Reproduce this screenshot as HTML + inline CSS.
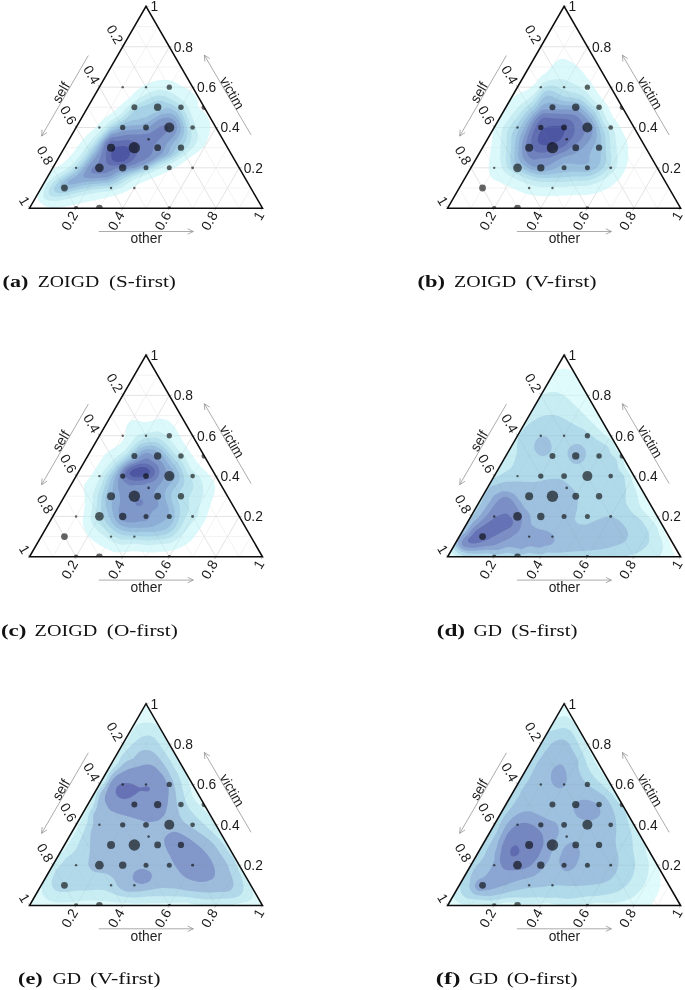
<!DOCTYPE html>
<html lang="en"><head><meta charset="utf-8"><title>Ternary density plots</title>
<style>
html,body{margin:0;padding:0;background:#fff}
body{width:685px;height:990px;overflow:hidden;position:relative}
svg{display:block;position:absolute;left:0;top:0}
.tl text,.at text{font-family:"Liberation Sans",Arial,sans-serif;font-size:13.8px;fill:#1a1a1a}
.at text{font-size:13.8px;fill:#222}
.ar path{stroke:#909090;stroke-width:0.75;fill:none}
circle{fill:#000;fill-opacity:0.6}
.cap{font-family:"Liberation Serif","Times New Roman",serif;font-size:17.3px;fill:#111}
.cap.b{font-weight:bold}
</style></head><body>
<svg width="685" height="990" viewBox="0 0 685 990">
<g transform="translate(29.5,208.2)">
<clipPath id="c0"><path d="M0,0L233,0L116.5,-201.78 Z"/></clipPath>
<path d="M11.65,-20.18L221.35,-20.18M23.3,0L128.15,-181.61M209.7,0L104.85,-181.61M34.95,-60.54L198.05,-60.54M69.9,0L151.45,-141.25M163.1,0L81.55,-141.25M58.25,-100.89L174.75,-100.89M116.5,0L174.75,-100.89M116.5,0L58.25,-100.89M81.55,-141.25L151.45,-141.25M163.1,0L198.05,-60.54M69.9,0L34.95,-60.54M104.85,-181.61L128.15,-181.61M209.7,0L221.35,-20.18M23.3,0L11.65,-20.18" stroke="#f1f1f1" stroke-width="0.9" fill="none"/>
<path d="M23.3,-40.36L209.7,-40.36M46.6,0L139.8,-161.43M186.4,0L93.2,-161.43M46.6,-80.71L186.4,-80.71M93.2,0L163.1,-121.07M139.8,0L69.9,-121.07M69.9,-121.07L163.1,-121.07M139.8,0L186.4,-80.71M93.2,0L46.6,-80.71M93.2,-161.43L139.8,-161.43M186.4,0L209.7,-40.36M46.6,0L23.3,-40.36" stroke="#e3e3e3" stroke-width="1" fill="none"/>
<g clip-path="url(#c0)">
<clipPath id="dk0"><path clip-rule="evenodd" d="M31,-0.8L27,-0.1L24,0L21,-0.2L19,-0.7L16,-1.9L13,-3.7L11,-5.4L9,-7.7L8.5,-8.8L8.2,-9.8L7.7,-15.8L7.7,-18.8L8.2,-21.8L8.8,-23.8L9.6,-25.8L11.3,-28.8L14,-32.1L18,-35.6L22,-38.3L31.8,-43.8L35.4,-46.8L39.5,-50.8L43,-54.7L52.6,-67.8L55.1,-70.8L57.9,-73.8L65,-79.8L70.6,-85.8L74,-89.1L77,-91.6L83,-95.8L87.8,-99.8L94,-105.5L99,-109.5L105,-115.8L107,-117.6L110,-119.9L114,-122.4L118,-124.5L122,-126.1L126,-127.3L130,-128.1L134,-128.4L137,-128.3L140,-127.9L142,-127.4L147,-125.2L152,-122.3L156,-120.4L159,-118.7L162,-116.5L164.8,-113.8L166.4,-111.8L167.9,-108.8L168.3,-106.8L168.5,-102.8L169.2,-100.8L171,-98.7L175.6,-94.8L177.2,-92.8L178.4,-90.8L179.3,-88.8L180.2,-85.8L180.6,-83.8L180.8,-80.8L180.4,-76.8L179.4,-72.8L177.7,-67.8L176.4,-64.8L175.2,-62.8L173.6,-60.8L171.4,-58.8L168,-56L164,-53.2L160,-50.1L156.5,-47.8L152,-44.4L147,-41.3L131,-33.3L108.1,-23.8L99,-18L95,-16L87,-13L76,-10.2L59.5,-6.8L40,-2.4L31,-0.8Z"/></clipPath>
<path fill="#dbf8fa" fill-rule="evenodd" d="M31,-0.8L27,-0.1L24,0L21,-0.2L19,-0.7L16,-1.9L13,-3.7L11,-5.4L9,-7.7L8.5,-8.8L8.2,-9.8L7.7,-15.8L7.7,-18.8L8.2,-21.8L8.8,-23.8L9.6,-25.8L11.3,-28.8L14,-32.1L18,-35.6L22,-38.3L31.8,-43.8L35.4,-46.8L39.5,-50.8L43,-54.7L52.6,-67.8L55.1,-70.8L57.9,-73.8L65,-79.8L70.6,-85.8L74,-89.1L77,-91.6L83,-95.8L87.8,-99.8L94,-105.5L99,-109.5L105,-115.8L107,-117.6L110,-119.9L114,-122.4L118,-124.5L122,-126.1L126,-127.3L130,-128.1L134,-128.4L137,-128.3L140,-127.9L142,-127.4L147,-125.2L152,-122.3L156,-120.4L159,-118.7L162,-116.5L164.8,-113.8L166.4,-111.8L167.9,-108.8L168.3,-106.8L168.5,-102.8L169.2,-100.8L171,-98.7L175.6,-94.8L177.2,-92.8L178.4,-90.8L179.3,-88.8L180.2,-85.8L180.6,-83.8L180.8,-80.8L180.4,-76.8L179.4,-72.8L177.7,-67.8L176.4,-64.8L175.2,-62.8L173.6,-60.8L171.4,-58.8L168,-56L164,-53.2L160,-50.1L156.5,-47.8L152,-44.4L147,-41.3L131,-33.3L108.1,-23.8L99,-18L95,-16L87,-13L76,-10.2L59.5,-6.8L40,-2.4L31,-0.8Z"/>
<path fill="#c8eef4" fill-rule="evenodd" d="M30,-7.7L27,-7.3L24,-7.1L20,-7.5L18,-8.1L16,-8.9L14.7,-9.8L14,-10.6L13.7,-11.8L13.7,-12.8L14.5,-17.8L16,-21.8L18,-25.2L20.2,-27.8L23.6,-30.8L27,-33.1L36.1,-38.8L40,-41.7L43,-44.3L46,-47.4L49,-50.9L58.5,-63.8L61.7,-67.8L75,-81.7L80,-86.6L88,-91.8L90.6,-93.8L93,-96L97.5,-100.8L100,-102.9L110,-110.1L117,-114.3L121,-116.2L124,-117.3L127,-118.1L130,-118.4L133,-118.3L136,-117.7L139,-116.7L142,-115.3L147,-112.4L151,-109.7L154.5,-106.8L157,-104.1L159,-100.8L165.3,-84.8L167.8,-76.8L168.3,-73.8L168.4,-71.8L168.2,-69.8L167.7,-67.8L166.4,-64.8L165.2,-62.8L163.7,-60.8L156,-53.5L148,-48.2L142,-45L126,-37.4L118,-34L107,-29.8L103,-27.9L99.5,-25.8L93,-21.2L91,-20.2L81,-17.1L69,-15.6L61,-14.4L53.2,-12.8L38,-9.2L30,-7.7Z"/>
<path fill="#b7e1ed" fill-rule="evenodd" d="M30,-11.7L26,-11.5L23,-11.8L21,-12.5L19.6,-13.8L19.2,-14.8L19,-15.8L19.6,-18.8L20.9,-21.8L23,-24.8L25,-26.9L28,-29.4L40.6,-37.8L45.5,-41.8L49,-45.4L52,-49L66.1,-67.8L75,-77.5L80.3,-82.8L82,-84.2L89.8,-88.8L94,-91.8L97,-94.7L100.6,-98.8L103,-101L106,-102.9L110,-105.2L122,-111L126,-112.4L128,-112.8L130,-112.8L133,-112.5L136,-111.6L143,-108.3L146,-106.5L149,-104.5L152.1,-101.8L153.9,-99.8L155.1,-97.8L156.4,-94.8L159.6,-85.8L161.7,-76.8L162,-73.8L161.9,-71.8L161.5,-68.8L161.1,-66.8L159.7,-63.8L154.2,-56.8L152.1,-54.8L149.6,-52.8L146,-50.4L142,-48.2L125,-40.2L118,-37.1L103.9,-31.8L100,-30L95.9,-27.8L89.8,-23.8L85,-21.8L82,-20.9L79,-20.2L66,-19L59,-17.9L53.5,-16.8L39,-13.2L34,-12.3L30,-11.7Z"/>
<path fill="#a7d1e6" fill-rule="evenodd" d="M36,-15.7L32,-15.3L29,-15.3L26.9,-15.8L25.3,-16.8L24.7,-17.8L24.6,-18.8L24.7,-19.8L25.3,-21.8L27.4,-24.8L29.4,-26.8L33.1,-29.8L44,-37L46.2,-38.8L49,-41.5L52,-44.8L55.9,-49.8L69.9,-68.8L75.3,-74.8L79,-78.5L82,-81L93.9,-87.8L96.9,-89.8L100.4,-92.8L105,-97.7L107,-99.3L110,-101L121,-104.6L127,-107.2L129,-107.5L132,-107.1L136,-106L140,-104.7L143,-103.4L147.1,-100.8L149.4,-98.8L151.1,-96.8L152.4,-94.8L153.8,-91.8L155.7,-86.8L156.9,-82.8L157.5,-79.8L157.8,-77.8L157.8,-75.8L157.5,-72.8L156.5,-68.8L155.7,-66.8L154.7,-64.8L149.3,-56.8L147.4,-54.8L145,-52.8L140,-49.8L132,-46.1L123,-41.6L115,-38.2L97.4,-31.8L93.4,-29.8L87,-25.8L83,-24.2L80,-23.3L77,-22.8L65,-21.8L58,-20.8L53,-19.7L41,-16.7L36,-15.7Z"/>
<path fill="#99c0de" fill-rule="evenodd" d="M41,-19.6L36,-19L34,-19L32,-19.4L31,-19.8L30.3,-20.8L30.2,-21.8L31.1,-23.8L32.8,-25.8L36,-28.8L38,-30.3L43,-33.3L46,-35.3L48,-37L50.8,-39.8L57,-47.4L63.3,-55.8L71.4,-67.8L77.7,-74.8L81,-77.9L82,-78.6L86,-80.3L91,-83.2L100,-87L104,-88.3L109,-88.8L113,-90.2L116,-90.8L117,-91.2L121,-93.5L124,-94.6L131,-97.8L134,-99.4L136,-100L138,-100.1L140,-99.9L143,-98.8L145,-97.6L147,-96L149.7,-92.8L151.8,-88.8L153.4,-84.8L154.3,-81.8L154.7,-78.8L154.6,-76.8L154.2,-74.8L153.2,-71.8L151.7,-68.8L147.8,-62.8L144.4,-56.8L141.9,-53.8L140,-52.3L138,-51.1L131,-47.9L124,-44.2L118,-41.4L107,-37.2L98.8,-34.8L95,-33.4L91,-31.5L85,-27.9L82,-26.6L80,-26L77,-25.4L64,-24.3L57,-23.4L52,-22.4L41,-19.6Z"/>
<path fill="#8cadd5" fill-rule="evenodd" d="M43,-23.6L40,-23.4L38.7,-23.8L38,-24.8L38.1,-25.8L38.7,-26.8L40,-28.1L44,-30.3L47,-32.3L49,-34.1L51,-36.1L59.3,-46.8L66.1,-55.8L68,-58.7L72.1,-65.8L73.5,-67.8L80,-74.7L82,-76.3L87,-78.1L92,-80.7L95,-81.5L100,-82.6L110,-83.3L114,-84.2L119,-86.3L124,-89.8L129,-92.5L132,-93.7L136,-94.8L138,-95L140,-95L142,-94.5L143,-94.1L146.1,-91.8L147.9,-89.8L149,-88.2L150.4,-84.8L151.4,-80.8L151.4,-78.8L150.8,-75.8L149.4,-72.8L148.3,-70.8L143.6,-64.8L141.4,-61.8L140.9,-60.8L140.1,-57.8L139.3,-55.8L138,-54.1L137,-53.3L129,-49.2L123,-45.7L115,-42L105,-38.4L98,-36.8L92,-35L89,-33.6L83,-29.9L80,-28.7L75,-27.8L63,-26.9L55,-26.1L50,-25.3L43,-23.6Z"/>
<path fill="#7f98ca" fill-rule="evenodd" d="M75,-30.7L64,-30L58,-30L56,-30.4L54.9,-30.8L54,-31.8L53.9,-32.8L54.1,-33.8L55,-35.8L58,-41L62.6,-46.8L68.5,-54.8L70.2,-57.8L74,-65.8L75,-67.1L81,-73.1L83,-74.2L87,-75.1L92,-76.9L94,-77.5L100,-78.3L110,-78.9L113,-79.3L116,-80.1L118,-80.8L120,-81.8L122,-83.1L126.7,-86.8L129.8,-88.8L132,-89.7L135,-90.4L138,-90.8L140,-90.6L141,-90.3L143.7,-88.8L145.6,-86.8L147,-84.2L147.6,-80.8L147.4,-78.8L146.4,-75.8L145.4,-73.8L144,-71.8L137.5,-64.8L135.7,-61.8L133.7,-56.8L133.1,-55.8L131.1,-53.8L122.5,-47.8L114,-43.7L110,-42.5L105,-40.5L98,-39.1L89,-36.8L86.7,-35.8L82,-32.8L80,-31.8L78,-31.3L75,-30.7Z"/>
<path fill="#7082be" fill-rule="evenodd" d="M74,-34.8L68,-34.6L64,-34.8L63,-35.2L62.1,-35.8L61.6,-36.8L61.7,-37.8L62,-38.9L63.4,-40.8L65,-42.3L67.1,-43.8L68,-44.7L69,-46.1L69.8,-47.8L71,-51.8L74.8,-62.8L75.6,-64.8L77,-66.6L81,-70.2L82,-70.8L83,-71.2L87,-71.4L93,-72.7L98,-73.4L102,-73.7L110,-73.7L115,-74.1L118,-74.5L120,-75.1L122,-76L129,-80.8L131,-81.9L133,-82.7L134,-82.9L136,-83L137.1,-82.8L138.5,-81.8L138.9,-80.8L138.8,-79.8L138.1,-77.8L137.5,-76.8L135.8,-74.8L132.9,-71.8L128.7,-67.8L124.6,-62.8L123.8,-60.8L123.1,-56.8L122.4,-54.8L121,-52.8L118.8,-50.8L115.7,-48.8L113.5,-47.8L110,-46.5L107.1,-44.8L105,-43.8L95,-40.8L92,-40.3L86,-39.6L84.1,-38.8L79,-36L77,-35.3L74,-34.8Z"/>
<path fill="#606db1" fill-rule="evenodd" d="M84,-42.8L81,-42.9L79,-43.5L77.7,-44.8L77.2,-45.8L76.6,-47.8L76.1,-51.8L76.3,-54.8L77.5,-61.8L78,-63.3L79,-64.9L81,-66.6L82,-67.2L83,-67.5L88,-67.3L98,-68.4L100,-68.3L102.3,-67.8L104.5,-66.8L105.9,-65.8L106.7,-64.8L107.7,-62.8L108.2,-60.8L108.2,-57.8L107.9,-55.8L107.2,-53.8L105.4,-50.8L103.8,-48.8L102.7,-47.8L99.7,-45.8L98,-44.7L96,-43.9L94,-43.4L91,-43L84,-42.8Z"/>
<path fill="#4c56a3" fill-rule="evenodd" d="M93,-46.7L89,-46.1L87,-46.3L85,-46.9L83.7,-47.8L82.8,-48.8L82.2,-49.8L81.8,-51.8L81.8,-54.8L82.6,-58.8L83.1,-59.8L84,-60.7L85,-61.1L90,-62L94,-62.3L96,-62L97,-61.7L98.4,-60.8L99.3,-59.8L100.3,-57.8L100.6,-55.8L100.4,-53.8L99.6,-51.8L98.2,-49.8L97,-48.6L95,-47.3L93,-46.7Z"/>
<g clip-path="url(#dk0)"><path d="M23.3,-40.36L209.7,-40.36M46.6,0L139.8,-161.43M186.4,0L93.2,-161.43M46.6,-80.71L186.4,-80.71M93.2,0L163.1,-121.07M139.8,0L69.9,-121.07M69.9,-121.07L163.1,-121.07M139.8,0L186.4,-80.71M93.2,0L46.6,-80.71M93.2,-161.43L139.8,-161.43M186.4,0L209.7,-40.36M46.6,0L23.3,-40.36" stroke="#8a9aa0" stroke-opacity="0.12" stroke-width="1" fill="none"/><path d="M11.65,-20.18L221.35,-20.18M23.3,0L128.15,-181.61M209.7,0L104.85,-181.61M34.95,-60.54L198.05,-60.54M69.9,0L151.45,-141.25M163.1,0L81.55,-141.25M58.25,-100.89L174.75,-100.89M116.5,0L174.75,-100.89M116.5,0L58.25,-100.89M81.55,-141.25L151.45,-141.25M163.1,0L198.05,-60.54M69.9,0L34.95,-60.54M104.85,-181.61L128.15,-181.61M209.7,0L221.35,-20.18M23.3,0L11.65,-20.18" stroke="#8a9aa0" stroke-opacity="0.05" stroke-width="0.9" fill="none"/></g>
<circle cx="93.2" cy="-121.07" r="1.2"/>
<circle cx="116.5" cy="-121.07" r="1.2"/>
<circle cx="139.8" cy="-121.07" r="2.65"/>
<circle cx="104.85" cy="-100.89" r="3"/>
<circle cx="128.15" cy="-100.89" r="3.7"/>
<circle cx="151.45" cy="-100.89" r="2.75"/>
<circle cx="174.75" cy="-100.89" r="2.65"/>
<circle cx="69.9" cy="-80.71" r="1.2"/>
<circle cx="93.2" cy="-80.71" r="2.65"/>
<circle cx="116.5" cy="-80.71" r="2.9"/>
<circle cx="139.8" cy="-80.71" r="5"/>
<circle cx="163.1" cy="-80.71" r="2.35"/>
<circle cx="119.11" cy="-68.89" r="1.3"/>
<circle cx="81.55" cy="-60.54" r="4"/>
<circle cx="104.85" cy="-60.54" r="5.7"/>
<circle cx="128.15" cy="-60.54" r="3.4"/>
<circle cx="151.45" cy="-60.54" r="3.15"/>
<circle cx="46.6" cy="-40.36" r="1.2"/>
<circle cx="69.9" cy="-40.36" r="4.35"/>
<circle cx="93.2" cy="-40.36" r="3.7"/>
<circle cx="116.5" cy="-40.36" r="2.5"/>
<circle cx="139.8" cy="-40.36" r="2.5"/>
<circle cx="163.1" cy="-40.36" r="1.45"/>
<circle cx="34.95" cy="-20.18" r="3.4"/>
<circle cx="81.55" cy="-20.18" r="1.2"/>
<circle cx="104.85" cy="-20.18" r="1.2"/>
<circle cx="46.6" cy="0" r="2.25"/>
<circle cx="69.9" cy="0" r="3.4"/>
<circle cx="139.8" cy="0" r="1.85"/>
</g>
<path d="M209.7,-40.36l2.5,0M93.2,-161.43l-1.25,-2.17M46.6,0l-1.25,2.17M186.4,-80.71l2.5,0M69.9,-121.07l-1.25,-2.17M93.2,0l-1.25,2.17M163.1,-121.07l2.5,0M46.6,-80.71l-1.25,-2.17M139.8,0l-1.25,2.17M139.8,-161.43l2.5,0M23.3,-40.36l-1.25,-2.17M186.4,0l-1.25,2.17M116.5,-201.78l2.5,0M0,0l-1.25,-2.17M233,0l-1.25,2.17" stroke="#b0b0b0" stroke-width="0.8" fill="none"/>
<path d="M0,0L233,0L116.5,-201.78 Z" stroke="#0d0d0d" stroke-width="1.55" fill="none" stroke-linejoin="miter"/>
<g class="tl">
<text transform="translate(214.2,-35.56) scale(1,1)">0.2</text>
<text text-anchor="end" transform="translate(93.2,-161.43) rotate(60) scale(1,1)" x="-4.95" y="5.27">0.2</text>
<text text-anchor="end" transform="translate(46.6,0) rotate(-60) scale(1,1)" x="-4.6" y="5.5">0.2</text>
<text transform="translate(190.9,-75.91) scale(1,1)">0.4</text>
<text text-anchor="end" transform="translate(69.9,-121.07) rotate(60) scale(1,1)" x="-4.95" y="5.27">0.4</text>
<text text-anchor="end" transform="translate(93.2,0) rotate(-60) scale(1,1)" x="-4.6" y="5.5">0.4</text>
<text transform="translate(167.6,-116.27) scale(1,1)">0.6</text>
<text text-anchor="end" transform="translate(46.6,-80.71) rotate(60) scale(1,1)" x="-4.95" y="5.27">0.6</text>
<text text-anchor="end" transform="translate(139.8,0) rotate(-60) scale(1,1)" x="-4.6" y="5.5">0.6</text>
<text transform="translate(144.3,-156.63) scale(1,1)">0.8</text>
<text text-anchor="end" transform="translate(23.3,-40.36) rotate(60) scale(1,1)" x="-4.95" y="5.27">0.8</text>
<text text-anchor="end" transform="translate(186.4,0) rotate(-60) scale(1,1)" x="-4.6" y="5.5">0.8</text>
<text transform="translate(121,-196.98) scale(1,1)">1</text>
<text text-anchor="end" transform="translate(0,0) rotate(60) scale(1,1)" x="-4.95" y="5.27">1</text>
<text text-anchor="end" transform="translate(233,0) rotate(-60) scale(1,1)" x="-4.6" y="5.5">1</text>
</g>
<g class="ar">
<path d="M58.8,-152.7L12.1,-72.1M12.1,-72.1l0.5,-6.4M12.1,-72.1l5.4,-3.5"/>
<path d="M221.6,-73.2L174.8,-153.1M174.8,-153.1l5.4,3.5M174.8,-153.1l0.5,6.4"/>
<path d="M69.3,23.3L163.8,23.3M163.8,23.3l-5.6,-2.7M163.8,23.3l-5.6,2.7"/>
</g>
<g class="at">
<text text-anchor="middle" transform="translate(35.5,-113.5) rotate(-60) scale(1,1)">self</text>
<text text-anchor="middle" transform="translate(198.5,-113) rotate(60) scale(1,1)">victim</text>
<text text-anchor="middle" transform="translate(116.8,35.1) scale(1,1)">other</text>
</g>
</g>
<g transform="translate(447.6,208.2)">
<clipPath id="c1"><path d="M0,0L233,0L116.5,-201.78 Z"/></clipPath>
<path d="M11.65,-20.18L221.35,-20.18M23.3,0L128.15,-181.61M209.7,0L104.85,-181.61M34.95,-60.54L198.05,-60.54M69.9,0L151.45,-141.25M163.1,0L81.55,-141.25M58.25,-100.89L174.75,-100.89M116.5,0L174.75,-100.89M116.5,0L58.25,-100.89M81.55,-141.25L151.45,-141.25M163.1,0L198.05,-60.54M69.9,0L34.95,-60.54M104.85,-181.61L128.15,-181.61M209.7,0L221.35,-20.18M23.3,0L11.65,-20.18" stroke="#f1f1f1" stroke-width="0.9" fill="none"/>
<path d="M23.3,-40.36L209.7,-40.36M46.6,0L139.8,-161.43M186.4,0L93.2,-161.43M46.6,-80.71L186.4,-80.71M93.2,0L163.1,-121.07M139.8,0L69.9,-121.07M69.9,-121.07L163.1,-121.07M139.8,0L186.4,-80.71M93.2,0L46.6,-80.71M93.2,-161.43L139.8,-161.43M186.4,0L209.7,-40.36M46.6,0L23.3,-40.36" stroke="#e3e3e3" stroke-width="1" fill="none"/>
<g clip-path="url(#c1)">
<clipPath id="dk1"><path clip-rule="evenodd" d="M117,-12.8L112,-12.4L100,-11.9L93,-12L88,-12.5L84,-13.1L80,-14L76,-15.3L71,-17.2L62,-21.2L54.8,-24.8L48,-27.7L46,-28.8L44,-30.5L42.6,-32.8L41.5,-35.8L41.1,-39.8L41.3,-43.8L42.2,-51.8L44.5,-68.8L45.2,-75.8L45.7,-78.8L46.7,-81.8L47.5,-83.8L51.3,-89.8L56.5,-99.8L58.9,-103.8L61,-106.6L63,-108.7L65.5,-110.8L68,-112.6L73,-115.6L80.2,-118.8L83,-120.6L88.5,-125.8L91.3,-129.8L93,-131.7L95,-133.3L97.3,-134.8L99.6,-136.8L105,-143.3L107,-145.5L109,-147.1L111,-148.4L113,-149.2L115,-149.5L117,-149.1L119,-148.4L124,-145.9L128,-143.3L132,-139.8L135,-136.4L142.7,-126.8L145.5,-122.8L150,-115.5L159.3,-103.8L160.5,-101.8L165,-92.5L166.6,-89.8L169.8,-85.8L171.1,-83.8L175.4,-75.8L178.4,-69.8L179.3,-66.8L179.9,-63.8L180.5,-57.8L180.7,-53.8L180.5,-48.8L179.5,-43.8L178.1,-39.8L175.6,-34.8L173,-30.8L170,-27.4L166,-23.8L162,-20.9L157,-18.1L153,-16.4L149,-15.1L144,-13.9L141,-13.5L137,-13.2L121,-13L117,-12.8Z"/></clipPath>
<path fill="#dbf8fa" fill-rule="evenodd" d="M117,-12.8L112,-12.4L100,-11.9L93,-12L88,-12.5L84,-13.1L80,-14L76,-15.3L71,-17.2L62,-21.2L54.8,-24.8L48,-27.7L46,-28.8L44,-30.5L42.6,-32.8L41.5,-35.8L41.1,-39.8L41.3,-43.8L42.2,-51.8L44.5,-68.8L45.2,-75.8L45.7,-78.8L46.7,-81.8L47.5,-83.8L51.3,-89.8L56.5,-99.8L58.9,-103.8L61,-106.6L63,-108.7L65.5,-110.8L68,-112.6L73,-115.6L80.2,-118.8L83,-120.6L88.5,-125.8L91.3,-129.8L93,-131.7L95,-133.3L97.3,-134.8L99.6,-136.8L105,-143.3L107,-145.5L109,-147.1L111,-148.4L113,-149.2L115,-149.5L117,-149.1L119,-148.4L124,-145.9L128,-143.3L132,-139.8L135,-136.4L142.7,-126.8L145.5,-122.8L150,-115.5L159.3,-103.8L160.5,-101.8L165,-92.5L166.6,-89.8L169.8,-85.8L171.1,-83.8L175.4,-75.8L178.4,-69.8L179.3,-66.8L179.9,-63.8L180.5,-57.8L180.7,-53.8L180.5,-48.8L179.5,-43.8L178.1,-39.8L175.6,-34.8L173,-30.8L170,-27.4L166,-23.8L162,-20.9L157,-18.1L153,-16.4L149,-15.1L144,-13.9L141,-13.5L137,-13.2L121,-13L117,-12.8Z"/>
<path fill="#c8eef4" fill-rule="evenodd" d="M121,-21.7L115,-21.3L94,-21.2L91,-21.5L87,-22.3L80,-24.3L73,-27L66,-30.2L62,-32.4L59,-34.5L56.6,-36.8L55.2,-38.8L53.9,-41.8L53,-45.8L52.7,-50.8L52.7,-60.8L53.4,-66.8L54.1,-76.8L54.8,-79.8L55.7,-81.8L66.8,-96.8L70.1,-100.8L74,-104.5L82,-110.5L86,-114L90,-118.5L95,-124.9L97,-126.3L99,-127.1L103,-128.1L108,-129L111,-129.2L114,-129.1L117,-128.5L120,-127.4L126,-124.5L132,-121.2L137,-117.8L140,-115.1L145.4,-108.8L148.5,-105.8L152.9,-101.8L154.5,-99.8L157.7,-91.8L159.1,-88.8L161,-85.8L164.4,-81.8L165.8,-79.8L166.4,-77.8L167.4,-73.8L168.5,-66.8L170,-51.8L170,-47.8L169.7,-44.8L169,-41.8L168.1,-39.8L165.8,-36.8L163,-33.9L159,-30.6L154,-27.4L149,-25.1L144,-23.4L141,-22.7L138,-22.3L127,-22.1L121,-21.7Z"/>
<path fill="#b7e1ed" fill-rule="evenodd" d="M121,-26.8L115,-26.3L96,-26.1L90,-26.8L84,-28.2L80,-29.5L75,-31.5L68,-34.6L64.2,-36.8L62,-38.5L60.9,-39.8L59.7,-41.8L58.8,-44.8L58.3,-47.8L58.2,-51.8L58.8,-61.8L59.2,-71.8L59.4,-74.8L59.8,-76.8L61,-79.8L62.3,-81.8L71.4,-93.8L75,-98.2L77.6,-100.8L82,-104.5L85,-107.3L88,-110.7L93.5,-117.8L95,-119.3L97,-121L98,-121.6L100,-122.3L102,-122.6L104,-122.7L108,-122L111,-120.8L117,-117.6L119,-117.1L125,-116L129,-115L133,-113.4L136,-111.5L138,-109.9L143.3,-104.8L148,-100.6L150.6,-97.8L152,-95.3L156,-86L158,-82.3L160.8,-77.8L161.8,-74.8L162.5,-69.8L162.7,-60.8L163.7,-52.8L163.8,-47.8L163.3,-44.8L162.6,-42.8L161.5,-40.8L159.2,-37.8L156,-34.8L152,-32.1L148,-30.2L143,-28.4L140,-27.7L137,-27.4L127,-27.2L121,-26.8Z"/>
<path fill="#a7d1e6" fill-rule="evenodd" d="M114,-30.8L101,-30.1L96,-30.1L90,-30.6L84,-31.9L78,-34.2L69,-38.6L66.9,-39.8L65.6,-40.8L64.1,-42.8L63.3,-44.8L62.9,-46.8L62.6,-51.8L63.5,-60.8L63.9,-70.8L64.6,-74.8L65.9,-77.8L73.7,-89.8L77.5,-94.8L80.3,-97.8L86,-103L88,-105.4L92,-111L95,-114.6L97,-116.3L98,-116.9L100,-117.6L102,-117.8L105,-117.2L108,-115.9L113,-113.1L116,-111.9L119,-111.3L126,-110.5L130,-109.6L133,-108.4L136,-106.5L145,-98.4L146.6,-96.8L148.1,-94.8L150.3,-90.8L155.6,-78.8L156.7,-75.8L157.5,-72.8L157.9,-68.8L158,-59.8L158.6,-51.8L158.5,-47.8L157.8,-44.8L157,-42.8L155.8,-40.8L154,-38.8L151.5,-36.8L148,-34.7L144,-33.1L141,-32.2L137,-31.7L125,-31.6L114,-30.8Z"/>
<path fill="#99c0de" fill-rule="evenodd" d="M101,-33.7L95,-33.5L88,-34.2L83,-35.6L79,-37.4L71.5,-41.8L69,-43.8L68,-45.3L67.3,-46.8L66.9,-48.8L66.7,-51.8L67.7,-66.8L68.5,-71.8L69.9,-75.8L74.3,-83.8L76.7,-87.8L79.5,-91.8L83,-95.7L89.5,-101.8L92,-105.9L94,-108.6L96,-110.5L98,-111.8L99,-112.2L101,-112.6L102,-112.5L104,-112L111,-108.8L115,-107.5L119,-106.9L126,-106.3L130,-105.5L133,-104.3L136,-102.3L144.6,-93.8L146.2,-91.8L147.9,-88.8L150.2,-83.8L152.2,-77.8L153.2,-73.8L153.6,-68.8L153.1,-49.8L152.7,-46.8L152.1,-44.8L151,-42.8L149.3,-40.8L148,-39.8L144,-37.6L141,-36.6L139,-36.2L136,-36.1L127,-36.6L122,-36.5L112,-35.3L101,-33.7Z"/>
<path fill="#8cadd5" fill-rule="evenodd" d="M102,-37.7L98,-37L94,-36.9L88,-37.4L85,-38L82,-39.3L79,-41.1L74.3,-44.8L72.5,-46.8L71.4,-48.8L70.7,-51.8L70.5,-54.8L70.7,-58.8L71.1,-64.8L71.7,-68.8L72.5,-71.8L74.1,-75.8L78.7,-84.8L80.5,-87.8L82.6,-90.8L85.2,-93.8L91.6,-99.8L94,-102.5L96,-103.9L98,-104.7L100,-105.2L103,-105.4L115,-103.1L125,-102.6L128,-102.2L130,-101.8L132,-101L133,-100.5L135,-98.8L142,-91.8L144,-89.4L145.6,-86.8L147.1,-83.8L148.1,-80.8L148.8,-77.8L149.2,-72.8L149,-70.4L148.5,-67.8L147.6,-64.8L144.7,-59.8L142.3,-53.8L141.8,-51.8L141.9,-48.8L141.5,-46.8L140.9,-45.8L139.8,-44.8L138,-44L136,-43.6L131,-43.6L120,-44.9L117,-44.8L107.5,-39.8L102,-37.7Z"/>
<path fill="#7f98ca" fill-rule="evenodd" d="M98,-41.7L93,-42.1L88,-41.3L86,-41.5L85,-41.8L81.6,-43.8L78.2,-46.8L76.6,-48.8L75.1,-51.8L74.4,-54.8L74.2,-58.8L74.4,-62.8L75.2,-67.8L76,-70.8L77.5,-74.8L80.6,-81.8L82.7,-85.8L85.5,-89.8L89,-93.8L93,-97.4L94,-98.1L95,-98.5L106,-99.3L116,-98.7L124,-98.6L128,-98.1L131,-97L134,-94.6L140,-88.8L142.2,-85.8L144.3,-81.8L144.7,-80.8L145,-78.8L144.9,-75.8L144,-71.8L142.6,-68.8L140,-65.1L137,-61.9L133,-58.4L129.2,-55.8L124.9,-53.8L117,-51.5L114,-50.3L111,-48.8L103,-43.7L100,-42.3L98,-41.7Z"/>
<path fill="#7082be" fill-rule="evenodd" d="M88,-48.6L86,-48.5L84,-49.2L82,-50.6L81,-51.8L79.8,-53.8L78.7,-56.8L78.2,-59.8L78.2,-62.8L78.8,-66.8L79.8,-70.8L81.6,-75.8L83.6,-80.8L85.1,-83.8L87,-86.9L89.2,-89.8L92,-92.8L94,-94.3L95,-94.7L97,-95L107,-94.6L116,-94.1L123,-93.9L126,-93.4L128,-92.7L130,-91.5L131.9,-89.8L133.6,-87.8L135.2,-84.8L137,-79.6L137.3,-76.8L136.9,-74.8L135.5,-71.8L133.3,-68.8L131.4,-66.8L127.8,-63.8L119.2,-57.8L117,-56.7L105,-51.7L102,-50.5L100,-50.1L93,-49.8L88,-48.6Z"/>
<path fill="#606db1" fill-rule="evenodd" d="M97,-55.7L94,-55.5L92,-55.6L90,-55.9L87.9,-56.8L86.6,-57.8L85.1,-59.8L84.2,-61.8L83.7,-63.8L83.5,-65.8L83.8,-68.8L84.4,-71.8L86,-76.8L87.1,-79.8L88.1,-81.8L90,-84.9L92,-87.6L93.2,-88.8L95,-90L97,-90.5L99,-90.6L107,-89.8L116,-89.4L119,-89.1L122,-88.2L123,-87.8L124.4,-86.8L125.9,-84.8L126.6,-82.8L127,-79.8L126.9,-76.8L126.6,-74.8L125.8,-72.8L124.8,-70.8L122.5,-67.8L117.7,-62.8L116.4,-61.8L115,-61L103,-57L100,-56.2L97,-55.7Z"/>
<path fill="#4c56a3" fill-rule="evenodd" d="M102,-63.5L98,-62.9L95,-63.1L93,-63.8L91.6,-64.8L90.7,-65.8L90.3,-66.8L90.1,-67.8L90.5,-70.8L92,-75L94,-78.2L95,-79.2L97,-80.5L102,-81.9L105,-82.2L110,-82.1L114,-82.4L115,-82.3L116.3,-81.8L117.1,-80.8L117.3,-79.8L116.9,-76.8L115.9,-73.8L113.7,-69.8L111.8,-67.8L110,-66.6L108,-65.7L102,-63.5Z"/>
<g clip-path="url(#dk1)"><path d="M23.3,-40.36L209.7,-40.36M46.6,0L139.8,-161.43M186.4,0L93.2,-161.43M46.6,-80.71L186.4,-80.71M93.2,0L163.1,-121.07M139.8,0L69.9,-121.07M69.9,-121.07L163.1,-121.07M139.8,0L186.4,-80.71M93.2,0L46.6,-80.71M93.2,-161.43L139.8,-161.43M186.4,0L209.7,-40.36M46.6,0L23.3,-40.36" stroke="#8a9aa0" stroke-opacity="0.12" stroke-width="1" fill="none"/><path d="M11.65,-20.18L221.35,-20.18M23.3,0L128.15,-181.61M209.7,0L104.85,-181.61M34.95,-60.54L198.05,-60.54M69.9,0L151.45,-141.25M163.1,0L81.55,-141.25M58.25,-100.89L174.75,-100.89M116.5,0L174.75,-100.89M116.5,0L58.25,-100.89M81.55,-141.25L151.45,-141.25M163.1,0L198.05,-60.54M69.9,0L34.95,-60.54M104.85,-181.61L128.15,-181.61M209.7,0L221.35,-20.18M23.3,0L11.65,-20.18" stroke="#8a9aa0" stroke-opacity="0.05" stroke-width="0.9" fill="none"/></g>
<circle cx="93.2" cy="-121.07" r="1.2"/>
<circle cx="116.5" cy="-121.07" r="1.2"/>
<circle cx="139.8" cy="-121.07" r="2.65"/>
<circle cx="104.85" cy="-100.89" r="3"/>
<circle cx="128.15" cy="-100.89" r="3.7"/>
<circle cx="151.45" cy="-100.89" r="2.75"/>
<circle cx="174.75" cy="-100.89" r="2.65"/>
<circle cx="69.9" cy="-80.71" r="1.2"/>
<circle cx="93.2" cy="-80.71" r="2.65"/>
<circle cx="116.5" cy="-80.71" r="2.9"/>
<circle cx="139.8" cy="-80.71" r="5"/>
<circle cx="163.1" cy="-80.71" r="2.35"/>
<circle cx="119.11" cy="-68.89" r="1.3"/>
<circle cx="81.55" cy="-60.54" r="4"/>
<circle cx="104.85" cy="-60.54" r="5.7"/>
<circle cx="128.15" cy="-60.54" r="3.4"/>
<circle cx="151.45" cy="-60.54" r="3.15"/>
<circle cx="46.6" cy="-40.36" r="1.2"/>
<circle cx="69.9" cy="-40.36" r="4.35"/>
<circle cx="93.2" cy="-40.36" r="3.7"/>
<circle cx="116.5" cy="-40.36" r="2.5"/>
<circle cx="139.8" cy="-40.36" r="2.5"/>
<circle cx="163.1" cy="-40.36" r="1.45"/>
<circle cx="34.95" cy="-20.18" r="3.4"/>
<circle cx="81.55" cy="-20.18" r="1.2"/>
<circle cx="104.85" cy="-20.18" r="1.2"/>
<circle cx="46.6" cy="0" r="2.25"/>
<circle cx="69.9" cy="0" r="3.4"/>
<circle cx="139.8" cy="0" r="1.85"/>
</g>
<path d="M209.7,-40.36l2.5,0M93.2,-161.43l-1.25,-2.17M46.6,0l-1.25,2.17M186.4,-80.71l2.5,0M69.9,-121.07l-1.25,-2.17M93.2,0l-1.25,2.17M163.1,-121.07l2.5,0M46.6,-80.71l-1.25,-2.17M139.8,0l-1.25,2.17M139.8,-161.43l2.5,0M23.3,-40.36l-1.25,-2.17M186.4,0l-1.25,2.17M116.5,-201.78l2.5,0M0,0l-1.25,-2.17M233,0l-1.25,2.17" stroke="#b0b0b0" stroke-width="0.8" fill="none"/>
<path d="M0,0L233,0L116.5,-201.78 Z" stroke="#0d0d0d" stroke-width="1.55" fill="none" stroke-linejoin="miter"/>
<g class="tl">
<text transform="translate(214.2,-35.56) scale(1,1)">0.2</text>
<text text-anchor="end" transform="translate(93.2,-161.43) rotate(60) scale(1,1)" x="-4.95" y="5.27">0.2</text>
<text text-anchor="end" transform="translate(46.6,0) rotate(-60) scale(1,1)" x="-4.6" y="5.5">0.2</text>
<text transform="translate(190.9,-75.91) scale(1,1)">0.4</text>
<text text-anchor="end" transform="translate(69.9,-121.07) rotate(60) scale(1,1)" x="-4.95" y="5.27">0.4</text>
<text text-anchor="end" transform="translate(93.2,0) rotate(-60) scale(1,1)" x="-4.6" y="5.5">0.4</text>
<text transform="translate(167.6,-116.27) scale(1,1)">0.6</text>
<text text-anchor="end" transform="translate(46.6,-80.71) rotate(60) scale(1,1)" x="-4.95" y="5.27">0.6</text>
<text text-anchor="end" transform="translate(139.8,0) rotate(-60) scale(1,1)" x="-4.6" y="5.5">0.6</text>
<text transform="translate(144.3,-156.63) scale(1,1)">0.8</text>
<text text-anchor="end" transform="translate(23.3,-40.36) rotate(60) scale(1,1)" x="-4.95" y="5.27">0.8</text>
<text text-anchor="end" transform="translate(186.4,0) rotate(-60) scale(1,1)" x="-4.6" y="5.5">0.8</text>
<text transform="translate(121,-196.98) scale(1,1)">1</text>
<text text-anchor="end" transform="translate(0,0) rotate(60) scale(1,1)" x="-4.95" y="5.27">1</text>
<text text-anchor="end" transform="translate(233,0) rotate(-60) scale(1,1)" x="-4.6" y="5.5">1</text>
</g>
<g class="ar">
<path d="M58.8,-152.7L12.1,-72.1M12.1,-72.1l0.5,-6.4M12.1,-72.1l5.4,-3.5"/>
<path d="M221.6,-73.2L174.8,-153.1M174.8,-153.1l5.4,3.5M174.8,-153.1l0.5,6.4"/>
<path d="M69.3,23.3L163.8,23.3M163.8,23.3l-5.6,-2.7M163.8,23.3l-5.6,2.7"/>
</g>
<g class="at">
<text text-anchor="middle" transform="translate(35.5,-113.5) rotate(-60) scale(1,1)">self</text>
<text text-anchor="middle" transform="translate(198.5,-113) rotate(60) scale(1,1)">victim</text>
<text text-anchor="middle" transform="translate(116.8,35.1) scale(1,1)">other</text>
</g>
</g>
<g transform="translate(29.5,556.8)">
<clipPath id="c2"><path d="M0,0L233,0L116.5,-201.78 Z"/></clipPath>
<path d="M11.65,-20.18L221.35,-20.18M23.3,0L128.15,-181.61M209.7,0L104.85,-181.61M34.95,-60.54L198.05,-60.54M69.9,0L151.45,-141.25M163.1,0L81.55,-141.25M58.25,-100.89L174.75,-100.89M116.5,0L174.75,-100.89M116.5,0L58.25,-100.89M81.55,-141.25L151.45,-141.25M163.1,0L198.05,-60.54M69.9,0L34.95,-60.54M104.85,-181.61L128.15,-181.61M209.7,0L221.35,-20.18M23.3,0L11.65,-20.18" stroke="#f1f1f1" stroke-width="0.9" fill="none"/>
<path d="M23.3,-40.36L209.7,-40.36M46.6,0L139.8,-161.43M186.4,0L93.2,-161.43M46.6,-80.71L186.4,-80.71M93.2,0L163.1,-121.07M139.8,0L69.9,-121.07M69.9,-121.07L163.1,-121.07M139.8,0L186.4,-80.71M93.2,0L46.6,-80.71M93.2,-161.43L139.8,-161.43M186.4,0L209.7,-40.36M46.6,0L23.3,-40.36" stroke="#e3e3e3" stroke-width="1" fill="none"/>
<g clip-path="url(#c2)">
<clipPath id="dk2"><path clip-rule="evenodd" d="M129,-4.7L124,-4.4L119,-4.4L109,-5.3L103,-5.6L94,-4.5L90,-4.3L85,-4.9L81,-6L76,-8.3L70,-11.7L65,-15.1L61,-18.4L58.7,-20.8L56.5,-23.8L54.6,-27.8L53.8,-30.8L53.4,-33.8L53.4,-37.8L55.4,-52.8L54.6,-69.8L54.7,-71.8L55.1,-72.8L55.7,-73.8L59,-77.6L72.8,-98.8L75.1,-101.8L77,-103.8L80,-106.3L87,-110.3L89,-111.7L91,-113.6L92.8,-115.8L94.2,-117.8L95.1,-119.8L96.9,-129.8L98,-132.7L99,-134L101,-135.6L102,-136.1L104,-136.7L105,-136.7L107,-136.5L114,-134.9L117,-134.9L120,-135.3L127,-137.6L130,-138.1L132,-138.1L135,-137.6L137,-137L139,-135.9L141,-134.5L143,-132.6L145.2,-129.8L153.8,-114.8L162.2,-102.8L166.7,-95.8L169,-92.8L171.7,-89.8L177,-84.7L179.7,-81.8L183.3,-76.8L184.8,-73.8L185.5,-71.8L185.7,-69.8L185.7,-67.8L184.7,-62.8L180,-49L177.1,-39.8L175.8,-36.8L174.1,-33.8L167.7,-23.8L164,-18.8L161.1,-15.8L158,-13.3L154,-10.9L149,-8.4L145,-7L140,-5.9L136,-5.3L129,-4.7Z"/></clipPath>
<path fill="#dbf8fa" fill-rule="evenodd" d="M129,-4.7L124,-4.4L119,-4.4L109,-5.3L103,-5.6L94,-4.5L90,-4.3L85,-4.9L81,-6L76,-8.3L70,-11.7L65,-15.1L61,-18.4L58.7,-20.8L56.5,-23.8L54.6,-27.8L53.8,-30.8L53.4,-33.8L53.4,-37.8L55.4,-52.8L54.6,-69.8L54.7,-71.8L55.1,-72.8L55.7,-73.8L59,-77.6L72.8,-98.8L75.1,-101.8L77,-103.8L80,-106.3L87,-110.3L89,-111.7L91,-113.6L92.8,-115.8L94.2,-117.8L95.1,-119.8L96.9,-129.8L98,-132.7L99,-134L101,-135.6L102,-136.1L104,-136.7L105,-136.7L107,-136.5L114,-134.9L117,-134.9L120,-135.3L127,-137.6L130,-138.1L132,-138.1L135,-137.6L137,-137L139,-135.9L141,-134.5L143,-132.6L145.2,-129.8L153.8,-114.8L162.2,-102.8L166.7,-95.8L169,-92.8L171.7,-89.8L177,-84.7L179.7,-81.8L183.3,-76.8L184.8,-73.8L185.5,-71.8L185.7,-69.8L185.7,-67.8L184.7,-62.8L180,-49L177.1,-39.8L175.8,-36.8L174.1,-33.8L167.7,-23.8L164,-18.8L161.1,-15.8L158,-13.3L154,-10.9L149,-8.4L145,-7L140,-5.9L136,-5.3L129,-4.7Z"/>
<path fill="#c8eef4" fill-rule="evenodd" d="M122,-11.8L117,-11.5L109,-12.8L105,-13.1L101,-12.9L95,-12.2L93,-12.1L91,-12.3L89,-12.8L85,-14.3L80,-17.1L75,-20.5L70,-24.4L66.5,-27.8L64.1,-30.8L62.4,-33.8L61.7,-35.8L61.2,-37.8L61.1,-40.8L62.8,-50.8L63,-53.8L63,-60.8L64.3,-65.8L66.4,-70.8L71.7,-81.8L74.2,-85.8L78.7,-91.8L81.2,-94.8L84,-97.6L93,-104.5L96,-107.2L99.9,-111.8L105,-118.8L107,-120.6L110,-122.2L113,-123.1L124,-125.1L128,-125.5L130,-125.1L133,-123.9L135,-122.6L137,-120.9L140,-117.6L147.8,-107.8L155,-100.6L156.2,-98.8L160,-91L162,-87.9L165,-84.4L169.2,-80.8L170.1,-79.8L171,-78.3L172.5,-74.8L173.3,-71.8L173.7,-68.8L173.7,-65.8L173,-60.8L170.4,-52.8L169.7,-49.8L168.9,-43.8L168,-40.8L166.6,-38.8L161.3,-32.8L156.1,-25.8L153.5,-22.8L151,-20.3L147.9,-17.8L144,-15.3L141,-13.9L139,-13.4L137,-13.1L122,-11.8Z"/>
<path fill="#b7e1ed" fill-rule="evenodd" d="M126,-16.7L118,-16.1L106,-17.4L102,-17.4L94,-17L92,-17.2L89,-18.2L85,-20.3L81.3,-22.8L77.4,-25.8L73,-29.8L70,-32.9L67.7,-35.8L66,-38.7L65.6,-40.8L65.8,-42.8L67.2,-49.8L68,-59.8L68.9,-63.8L70.3,-67.8L74.7,-78.8L76,-81.3L78.4,-84.8L82.3,-89.8L85.9,-93.8L89,-96.6L95,-101.3L97.8,-103.8L100,-106.1L105,-111.9L108,-114.8L111,-116.6L114,-117.8L118,-118.7L123,-119.3L126,-119.2L128,-118.9L130,-118.1L133,-116.4L137,-112.7L145.6,-102.8L150.6,-97.8L153,-94.3L159,-82.1L162.9,-75.8L163.6,-73.8L163.9,-71.8L163.9,-69.8L163.2,-66.8L162.3,-64.8L160,-60.8L159.6,-59.8L159.4,-57.8L159.7,-49.8L159.5,-47.8L159.1,-45.8L158.3,-43.8L156.2,-39.8L153.7,-33.8L150.8,-28.8L148.6,-25.8L146,-23.1L143.2,-20.8L141,-19.5L139,-18.6L136,-17.8L126,-16.7Z"/>
<path fill="#a7d1e6" fill-rule="evenodd" d="M126,-20.8L118,-20.4L107,-21.1L97,-21.2L93,-21.8L89,-23.3L86,-25L83,-27.2L80.2,-29.8L77.5,-32.8L75.5,-35.8L72.6,-41.8L72,-43.8L71.7,-45.8L71.6,-49.8L71.9,-56.8L72.8,-62.8L76.5,-73.8L78,-77.8L79.5,-80.8L82.2,-84.8L86,-89.8L88.8,-92.8L92,-95.6L99.7,-101.8L105,-107.4L108,-110.2L111,-112.3L114,-113.6L117,-114.5L121,-114.9L125,-114.7L127,-114.2L129,-113.5L131,-112.3L133,-110.9L137,-106.9L142.9,-99.8L147.5,-94.8L150,-91.2L151.8,-87.8L153.4,-83.8L154.5,-79.8L155,-76.8L154.8,-73.8L154,-71.1L152.7,-68.8L149.3,-63.8L148,-60.8L147.9,-59.8L148.1,-57.8L150.4,-49.8L150.7,-45.8L150.4,-42.8L149.7,-38.8L148.8,-35.8L147.5,-32.8L145.7,-29.8L144,-27.5L142,-25.6L139,-23.5L137,-22.6L134,-21.8L126,-20.8Z"/>
<path fill="#99c0de" fill-rule="evenodd" d="M122,-24.8L111,-24.7L102,-24.9L98,-25.2L95,-25.7L93,-26.3L90,-27.5L88,-28.7L85.4,-30.8L83.5,-32.8L82,-34.8L80.4,-37.8L77.8,-44.8L77,-47.8L76.4,-51.8L76.1,-55.8L76.1,-58.8L76.4,-60.8L80.7,-75.8L82,-78.8L83.6,-81.8L86.1,-85.8L88.3,-88.8L90,-90.8L92,-92.8L101.2,-99.8L107,-105.5L110,-107.9L112,-109.2L115,-110.4L117,-110.9L120,-111.2L124,-110.9L126,-110.4L128,-109.6L131,-107.8L134.4,-104.8L136.1,-102.8L144.1,-92.8L147,-88.8L148.6,-85.8L149.4,-83.8L149.9,-81.8L150.1,-79.8L149.8,-76.8L149.1,-74.8L148,-72.8L143.6,-66.8L142.6,-64.8L141.8,-61.8L141.8,-58.8L142.1,-56.8L144.7,-48.8L145.4,-44.8L145.3,-41.8L145,-39.8L144.1,-36.8L143.2,-34.8L142,-32.7L140,-30.2L138,-28.5L136,-27.4L134,-26.7L130.5,-25.8L126,-25.1L122,-24.8Z"/>
<path fill="#8cadd5" fill-rule="evenodd" d="M121,-29.7L118,-29.3L114,-29L102,-29L99,-29.2L96,-29.8L92,-31.3L90,-32.5L88.4,-33.8L86.7,-35.8L85.4,-37.8L84.1,-40.8L83.3,-43.8L82.5,-47.8L82.3,-50.8L82.4,-54.8L83.4,-59.8L83,-66.8L83.2,-69.8L83.7,-72.8L84.4,-75.8L85.4,-78.8L87.2,-82.8L89.4,-86.8L91.7,-89.8L94,-91.9L97,-94.2L103.9,-98.8L109,-103.5L111,-105L113,-106.2L115,-107L117,-107.5L119,-107.7L121,-107.6L123,-107.2L127,-105.8L130,-103.8L133,-101.1L135,-98.5L143.2,-86.8L145,-83.5L145.6,-81.8L145.7,-80.8L145.3,-78.8L144.1,-76.8L139.7,-71.8L137.5,-68.8L136.4,-66.8L135.5,-63.8L135.4,-61.8L135.8,-58.8L139.5,-46.8L139.5,-44.8L139.2,-42.8L138.1,-39.8L137,-38.2L136,-37.1L133,-34.9L126,-31.3L124,-30.5L121,-29.7Z"/>
<path fill="#7f98ca" fill-rule="evenodd" d="M107,-34.7L103,-34.3L100,-34.3L97,-34.7L95,-35.3L93.9,-35.8L92,-37.2L90.7,-38.8L89.7,-40.8L89.2,-42.8L89,-45.8L89.3,-48.8L90.5,-54.8L90.6,-57.8L90,-62.8L88.8,-67.8L88.4,-70.8L88.3,-74.8L88.8,-78.8L89.9,-82.8L91.3,-85.8L93,-88.4L95,-90.4L100,-93.8L105.6,-96.8L112,-101.8L113.5,-102.8L116,-103.8L117,-103.9L119,-103.8L121,-103.2L123.5,-101.8L126.3,-99.8L131,-95.9L132,-94.9L134.2,-91.8L135.6,-88.8L136.5,-85.8L136.5,-83.8L135.9,-81.8L133,-75.8L131,-73L125.8,-66.8L124.8,-64.8L124.5,-63.8L124.5,-61.8L124.8,-60.8L125.3,-59.8L128,-56.2L128.7,-54.8L128.9,-53.8L128.9,-51.8L128.2,-49.8L127.3,-48.8L124,-46.4L122.5,-44.8L121.3,-42.8L120,-39.4L119,-38L117.8,-36.8L116,-35.9L112,-35.5L107,-34.7Z"/>
<path fill="#7082be" fill-rule="evenodd" d="M112,-71.8L107,-71.7L104,-71.3L102,-71.2L100,-71.6L98,-72.5L95,-74.6L94,-75.6L93,-77.1L92.3,-79.8L92.6,-82.8L93.7,-85.8L95,-87.7L96,-88.8L98.8,-90.8L102,-92.5L106,-94.1L116,-98.6L117,-98.8L118,-98.6L121,-97L126.8,-92.8L128,-91.7L129.1,-89.8L129.7,-87.8L129.9,-84.8L129.6,-82.8L128.9,-80.8L127.8,-78.8L126,-76.8L125,-76L124,-75.4L122,-74.6L118.6,-73.8L114,-72.1L112,-71.8ZM111,-50.7L109,-50.5L108,-50.7L107,-51.3L106,-52.8L105.7,-54.8L105.9,-55.8L106.5,-56.8L108,-57.8L109,-58L111,-57.8L112.6,-56.8L113.3,-55.8L113.7,-54.8L113.6,-53.8L113.3,-52.8L112.6,-51.8L111,-50.7Z"/>
<path fill="#606db1" fill-rule="evenodd" d="M114,-76.6L111,-76.1L105,-76.1L102,-76.5L100,-77.2L97.5,-78.8L96.5,-79.8L96,-80.7L95.7,-82.8L96.2,-84.8L97.5,-86.8L99.9,-88.8L103,-90.3L108,-92.2L111,-93L113,-93.2L117,-93.1L119,-92.6L122,-90.8L124.1,-88.8L124.7,-87.8L125.3,-85.8L125.3,-83.8L125.1,-82.8L124.1,-80.8L123.1,-79.8L122,-79.1L120,-78.2L114,-76.6Z"/>
<path fill="#4c56a3" fill-rule="evenodd" d="M112,-79.7L110,-79.5L106,-79.6L104,-79.9L102,-80.7L100.8,-81.8L100.4,-82.8L100.4,-83.8L100.7,-84.8L101.5,-85.8L103,-86.9L104.7,-87.8L109,-89.4L111,-89.8L113,-89.8L115,-89.6L117,-89L118.9,-87.8L119.7,-86.8L120.2,-85.8L120.3,-84.8L120,-83.5L119.5,-82.8L118.1,-81.8L115.6,-80.8L112,-79.7Z"/>
<g clip-path="url(#dk2)"><path d="M23.3,-40.36L209.7,-40.36M46.6,0L139.8,-161.43M186.4,0L93.2,-161.43M46.6,-80.71L186.4,-80.71M93.2,0L163.1,-121.07M139.8,0L69.9,-121.07M69.9,-121.07L163.1,-121.07M139.8,0L186.4,-80.71M93.2,0L46.6,-80.71M93.2,-161.43L139.8,-161.43M186.4,0L209.7,-40.36M46.6,0L23.3,-40.36" stroke="#8a9aa0" stroke-opacity="0.12" stroke-width="1" fill="none"/><path d="M11.65,-20.18L221.35,-20.18M23.3,0L128.15,-181.61M209.7,0L104.85,-181.61M34.95,-60.54L198.05,-60.54M69.9,0L151.45,-141.25M163.1,0L81.55,-141.25M58.25,-100.89L174.75,-100.89M116.5,0L174.75,-100.89M116.5,0L58.25,-100.89M81.55,-141.25L151.45,-141.25M163.1,0L198.05,-60.54M69.9,0L34.95,-60.54M104.85,-181.61L128.15,-181.61M209.7,0L221.35,-20.18M23.3,0L11.65,-20.18" stroke="#8a9aa0" stroke-opacity="0.05" stroke-width="0.9" fill="none"/></g>
<circle cx="93.2" cy="-121.07" r="1.2"/>
<circle cx="116.5" cy="-121.07" r="1.2"/>
<circle cx="139.8" cy="-121.07" r="2.65"/>
<circle cx="104.85" cy="-100.89" r="3"/>
<circle cx="128.15" cy="-100.89" r="3.7"/>
<circle cx="151.45" cy="-100.89" r="2.75"/>
<circle cx="174.75" cy="-100.89" r="2.65"/>
<circle cx="69.9" cy="-80.71" r="1.2"/>
<circle cx="93.2" cy="-80.71" r="2.65"/>
<circle cx="116.5" cy="-80.71" r="2.9"/>
<circle cx="139.8" cy="-80.71" r="5"/>
<circle cx="163.1" cy="-80.71" r="2.35"/>
<circle cx="119.11" cy="-68.89" r="1.3"/>
<circle cx="81.55" cy="-60.54" r="4"/>
<circle cx="104.85" cy="-60.54" r="5.7"/>
<circle cx="128.15" cy="-60.54" r="3.4"/>
<circle cx="151.45" cy="-60.54" r="3.15"/>
<circle cx="46.6" cy="-40.36" r="1.2"/>
<circle cx="69.9" cy="-40.36" r="4.35"/>
<circle cx="93.2" cy="-40.36" r="3.7"/>
<circle cx="116.5" cy="-40.36" r="2.5"/>
<circle cx="139.8" cy="-40.36" r="2.5"/>
<circle cx="163.1" cy="-40.36" r="1.45"/>
<circle cx="34.95" cy="-20.18" r="3.4"/>
<circle cx="81.55" cy="-20.18" r="1.2"/>
<circle cx="104.85" cy="-20.18" r="1.2"/>
<circle cx="46.6" cy="0" r="2.25"/>
<circle cx="69.9" cy="0" r="3.4"/>
<circle cx="139.8" cy="0" r="1.85"/>
</g>
<path d="M209.7,-40.36l2.5,0M93.2,-161.43l-1.25,-2.17M46.6,0l-1.25,2.17M186.4,-80.71l2.5,0M69.9,-121.07l-1.25,-2.17M93.2,0l-1.25,2.17M163.1,-121.07l2.5,0M46.6,-80.71l-1.25,-2.17M139.8,0l-1.25,2.17M139.8,-161.43l2.5,0M23.3,-40.36l-1.25,-2.17M186.4,0l-1.25,2.17M116.5,-201.78l2.5,0M0,0l-1.25,-2.17M233,0l-1.25,2.17" stroke="#b0b0b0" stroke-width="0.8" fill="none"/>
<path d="M0,0L233,0L116.5,-201.78 Z" stroke="#0d0d0d" stroke-width="1.55" fill="none" stroke-linejoin="miter"/>
<g class="tl">
<text transform="translate(214.2,-35.56) scale(1,1)">0.2</text>
<text text-anchor="end" transform="translate(93.2,-161.43) rotate(60) scale(1,1)" x="-4.95" y="5.27">0.2</text>
<text text-anchor="end" transform="translate(46.6,0) rotate(-60) scale(1,1)" x="-4.6" y="5.5">0.2</text>
<text transform="translate(190.9,-75.91) scale(1,1)">0.4</text>
<text text-anchor="end" transform="translate(69.9,-121.07) rotate(60) scale(1,1)" x="-4.95" y="5.27">0.4</text>
<text text-anchor="end" transform="translate(93.2,0) rotate(-60) scale(1,1)" x="-4.6" y="5.5">0.4</text>
<text transform="translate(167.6,-116.27) scale(1,1)">0.6</text>
<text text-anchor="end" transform="translate(46.6,-80.71) rotate(60) scale(1,1)" x="-4.95" y="5.27">0.6</text>
<text text-anchor="end" transform="translate(139.8,0) rotate(-60) scale(1,1)" x="-4.6" y="5.5">0.6</text>
<text transform="translate(144.3,-156.63) scale(1,1)">0.8</text>
<text text-anchor="end" transform="translate(23.3,-40.36) rotate(60) scale(1,1)" x="-4.95" y="5.27">0.8</text>
<text text-anchor="end" transform="translate(186.4,0) rotate(-60) scale(1,1)" x="-4.6" y="5.5">0.8</text>
<text transform="translate(121,-196.98) scale(1,1)">1</text>
<text text-anchor="end" transform="translate(0,0) rotate(60) scale(1,1)" x="-4.95" y="5.27">1</text>
<text text-anchor="end" transform="translate(233,0) rotate(-60) scale(1,1)" x="-4.6" y="5.5">1</text>
</g>
<g class="ar">
<path d="M58.8,-152.7L12.1,-72.1M12.1,-72.1l0.5,-6.4M12.1,-72.1l5.4,-3.5"/>
<path d="M221.6,-73.2L174.8,-153.1M174.8,-153.1l5.4,3.5M174.8,-153.1l0.5,6.4"/>
<path d="M69.3,23.3L163.8,23.3M163.8,23.3l-5.6,-2.7M163.8,23.3l-5.6,2.7"/>
</g>
<g class="at">
<text text-anchor="middle" transform="translate(35.5,-113.5) rotate(-60) scale(1,1)">self</text>
<text text-anchor="middle" transform="translate(198.5,-113) rotate(60) scale(1,1)">victim</text>
<text text-anchor="middle" transform="translate(116.8,35.1) scale(1,1)">other</text>
</g>
</g>
<g transform="translate(447.6,556.8)">
<clipPath id="c3"><path d="M0,0L233,0L116.5,-201.78 Z"/></clipPath>
<path d="M11.65,-20.18L221.35,-20.18M23.3,0L128.15,-181.61M209.7,0L104.85,-181.61M34.95,-60.54L198.05,-60.54M69.9,0L151.45,-141.25M163.1,0L81.55,-141.25M58.25,-100.89L174.75,-100.89M116.5,0L174.75,-100.89M116.5,0L58.25,-100.89M81.55,-141.25L151.45,-141.25M163.1,0L198.05,-60.54M69.9,0L34.95,-60.54M104.85,-181.61L128.15,-181.61M209.7,0L221.35,-20.18M23.3,0L11.65,-20.18" stroke="#f1f1f1" stroke-width="0.9" fill="none"/>
<path d="M23.3,-40.36L209.7,-40.36M46.6,0L139.8,-161.43M186.4,0L93.2,-161.43M46.6,-80.71L186.4,-80.71M93.2,0L163.1,-121.07M139.8,0L69.9,-121.07M69.9,-121.07L163.1,-121.07M139.8,0L186.4,-80.71M93.2,0L46.6,-80.71M93.2,-161.43L139.8,-161.43M186.4,0L209.7,-40.36M46.6,0L23.3,-40.36" stroke="#e3e3e3" stroke-width="1" fill="none"/>
<g clip-path="url(#c3)">
<clipPath id="dk3"><path clip-rule="evenodd" d="M239,5.2L-6,5.2L-6,-207.8L87.2,-207.8L86.2,-206.8L86.2,-198.8L86.2,-196.8L87.2,-195.8L87.3,-192.8L88.3,-191.8L88.3,-190.8L89.3,-189.8L89.4,-187.8L91.5,-185.8L91.6,-184.8L94,-182.7L95,-182.8L105,-185.1L110,-187L113,-187.9L116,-188.3L119,-188.1L123,-187.1L125,-186.2L127,-185L130,-182.2L133.3,-177.8L134,-177.7L137,-180.3L141.7,-184.8L141.7,-185.8L143.8,-187.8L143.8,-189.8L144.8,-190.8L144.8,-191.8L145.8,-192.8L145.8,-195.8L146.8,-196.8L146.8,-197.8L146.9,-206.8L145.9,-207.8L239,-207.8L239,-34.7L238,-35.7L237,-35.7L235,-37.7L233,-37.7L232,-38.7L228,-38.7L227,-39.7L226,-39.7L225,-38.6L221,-38.6L220,-37.6L218,-37.5L217,-36.4L216,-36.3L214.7,-34.8L214.9,-33.8L216.3,-30.8L216.9,-28.8L217.6,-23.8L218,-21.9L220.7,-17.8L222.3,-14.8L223.3,-11.8L224.3,-7.8L227.1,-1.8L227.7,0.2L229,0.5L232,0.8L233,-0.1L235,-0.1L237,-2L238,-2L239,-3L239,5.2Z"/></clipPath>
<path fill="#e0fbfb" fill-rule="evenodd" d="M239,5.2L-6,5.2L-6,-207.8L87.2,-207.8L86.2,-206.8L86.2,-198.8L86.2,-196.8L87.2,-195.8L87.3,-192.8L88.3,-191.8L88.3,-190.8L89.3,-189.8L89.4,-187.8L91.5,-185.8L91.6,-184.8L94,-182.7L95,-182.8L105,-185.1L110,-187L113,-187.9L116,-188.3L119,-188.1L123,-187.1L125,-186.2L127,-185L130,-182.2L133.3,-177.8L134,-177.7L137,-180.3L141.7,-184.8L141.7,-185.8L143.8,-187.8L143.8,-189.8L144.8,-190.8L144.8,-191.8L145.8,-192.8L145.8,-195.8L146.8,-196.8L146.8,-197.8L146.9,-206.8L145.9,-207.8L239,-207.8L239,-34.7L238,-35.7L237,-35.7L235,-37.7L233,-37.7L232,-38.7L228,-38.7L227,-39.7L226,-39.7L225,-38.6L221,-38.6L220,-37.6L218,-37.5L217,-36.4L216,-36.3L214.7,-34.8L214.9,-33.8L216.3,-30.8L216.9,-28.8L217.6,-23.8L218,-21.9L220.7,-17.8L222.3,-14.8L223.3,-11.8L224.3,-7.8L227.1,-1.8L227.7,0.2L229,0.5L232,0.8L233,-0.1L235,-0.1L237,-2L238,-2L239,-3L239,5.2Z"/>
<path fill="#c8edf3" fill-rule="evenodd" d="M207,5.2L38.9,5.2L21,3.9L16,2.9L12,1.6L10,0.5L8.2,-0.8L5,-3.8L2.1,-7.8L0.1,-11.8L-0.6,-13.8L-0.9,-15.8L-1.1,-17.8L-0.9,-20.8L0,-24.5L1.4,-27.8L3.6,-31.8L10.8,-42.8L14.8,-49.8L17.7,-55.8L23.6,-69.8L25.1,-72.8L26.9,-75.8L30,-79.7L33,-82.5L36,-84.7L44,-89.8L46.5,-91.8L49.3,-94.8L51.4,-97.8L52.8,-100.8L54,-104.6L56.5,-118.8L58.5,-125.8L60,-129.5L61.6,-132.8L64,-136.8L66,-139.8L70,-144.6L75,-149.6L80,-153.7L85,-157L93,-161.2L99,-163.8L101,-164.3L103.6,-164.8L106,-164.9L108,-164.9L111,-164.1L114,-162.8L118,-160.1L121,-157.7L128,-151L155.1,-123.8L157.2,-121.8L163,-117.3L164.4,-115.8L166,-113.5L168.8,-106.8L169.6,-105.8L173,-102.3L174.7,-99.8L175.9,-96.8L177.3,-89.8L178,-88.6L181,-84.8L182.2,-82.8L183,-80.8L184.5,-75.8L188.3,-66.8L189.2,-63.8L191.2,-54.8L192.1,-51.8L193,-49.8L194.9,-46.8L202,-39.5L206,-34.7L208.9,-30.8L210,-28.5L211.8,-21.8L213.9,-17.8L214.2,-16.8L215,-12.8L215.2,-9.8L215.2,-7.8L214.4,-4.8L213,-1.6L210.5,2.2L207.9,5.2L207,5.2Z"/>
<path fill="#b0d9ea" fill-rule="evenodd" d="M162,5.2L110.5,5.2L105,4.4L101,4L91,3.9L81,3.1L71,3.3L60,1.9L50,1.9L47,1.7L39,0.6L29,0.4L21,0L16,-0.9L14,-1.6L11.7,-2.8L10,-4L8,-5.9L6.5,-7.8L4.7,-10.8L3.6,-13.8L3.3,-16.8L3.6,-19.8L4.7,-22.8L6.4,-25.8L13,-34.1L22.3,-47.8L25.5,-53.8L31,-66.5L33.3,-70.8L36,-74.1L39,-76.4L42,-77.8L48,-79.4L50,-80.2L59.4,-85.8L62.1,-87.8L64,-89.6L65.3,-91.8L68.6,-100.8L69.2,-104.8L69.6,-112.8L69.9,-115.8L70.8,-118.8L72.1,-121.8L73.2,-123.8L75,-126.4L77,-128.7L79,-130.7L85,-135.6L90,-138.7L93,-140.1L96,-141L99,-141.6L103,-141.9L106,-141.8L109,-141.3L112,-140.4L115,-139.1L122.1,-134.8L130,-130.6L136,-127.2L140,-124.4L149.8,-116.8L159,-111.3L160.5,-109.8L161,-108.7L162.4,-104.8L163.5,-102.8L165,-101L168.5,-97.8L169.2,-96.8L169.7,-94.8L170.4,-89.8L171.1,-87.8L172.2,-85.8L175.8,-81.8L176.4,-80.8L176.9,-78.8L178.4,-67.8L178.4,-64.8L177.9,-56.8L178.2,-54.8L178.8,-52.8L180.9,-48.8L183.2,-45.8L186.2,-42.8L193,-37.2L195.1,-34.8L197.2,-31.8L199.6,-27.8L200.8,-24.8L201.7,-20.8L201.7,-17.8L201.5,-15.8L200.9,-13.8L200,-12.1L199.1,-10.8L195.9,-7.8L192,-5.1L189,-3.6L186,-2.5L175,0.1L166,3.8L162,5.2Z"/>
<path fill="#9dc1de" fill-rule="evenodd" d="M98,-101.4L96,-100.9L95,-100.9L93,-101.2L91,-102.1L89,-103.7L88.2,-104.8L87.6,-105.8L86.9,-107.8L86.7,-109.8L86.7,-111.8L87.1,-113.8L87.9,-115.8L89,-117.4L90.4,-118.8L92,-119.8L94,-120.5L96,-120.6L97,-120.5L99,-119.7L100.3,-118.8L101.3,-117.8L102.5,-115.8L103.3,-113.8L103.8,-111.8L104.1,-108.8L103.7,-106.8L103.2,-105.8L102.6,-104.8L101,-103.1L100,-102.4L98,-101.4ZM133,-93.8L132,-93.3L130,-92.8L128,-92.9L126,-93.4L124,-94.7L123,-95.7L121.5,-97.8L120.6,-99.8L120.1,-101.8L119.9,-103.8L120.2,-105.8L121,-107.8L122,-109.2L123.6,-110.8L125,-111.8L127,-112.6L129,-112.9L130.4,-112.8L132,-112.4L134,-111.3L135.8,-109.8L136.6,-108.8L137.3,-107.8L138.1,-105.8L138.4,-103.8L138.3,-101.8L137.5,-98.8L136.4,-96.8L135.5,-95.8L134,-94.4L133,-93.8ZM94,-2.7L92,-2.5L90,-2.5L82,-3.7L80,-3.8L75,-2.4L72,-2.1L69,-2.4L62,-3.7L59,-4L53,-2.8L50,-2.4L47,-2.5L39,-3.5L31,-3.1L21,-3.2L17,-4L14,-5.2L11,-7.3L10,-8.2L8.2,-10.8L7.4,-12.8L7,-15.8L7.6,-18.8L8.5,-20.8L10,-22.8L14.2,-26.8L15.9,-28.8L21,-36.1L28.1,-44.8L30.7,-48.8L34.1,-54.8L39,-64.8L41,-68.1L42.5,-69.8L44,-70.7L50,-72.5L56,-74.5L60,-75L70,-75.4L80,-74.7L87,-74.8L92,-75.4L99,-77.2L102,-77.7L109,-78.1L111,-78L113,-77.6L114.9,-76.8L116.4,-75.8L121,-72.1L124,-69.3L126,-67.1L127.6,-64.8L128.7,-62.8L129.6,-60.8L130.1,-58.8L130.2,-56.8L129.8,-49.8L129.4,-46.8L127.7,-40.8L127.3,-38.8L127.3,-37.8L127.8,-35.8L128.4,-34.8L129.5,-33.8L131,-32.9L133,-32.3L135,-32.1L138,-32.3L141,-33.1L151,-37.5L156,-39.4L160,-40.3L163,-40.4L165,-39.9L168,-38.5L170.8,-36.8L173,-35L175.2,-32.8L177.6,-29.8L179.3,-26.8L180.1,-24.8L180.5,-22.8L180.5,-21.8L180.1,-19.8L179.2,-17.8L178.5,-16.8L176.5,-14.8L175,-13.7L172.9,-12.8L167,-10.8L161,-9.1L154,-7.6L147,-6.7L136,-5.8L125,-5.4L111,-4L107,-4L100,-4.2L94,-2.7Z"/>
<path fill="#8ba6d2" fill-rule="evenodd" d="M50,-6.8L47,-6.7L39,-7L30,-6.2L24,-6.1L21,-6.1L18,-6.6L15,-7.6L13.3,-8.8L12,-10L11.4,-10.8L10.6,-12.8L10.5,-13.8L10.6,-15.8L11.2,-17.8L12.5,-19.8L14.7,-21.8L18,-24.2L19,-25.4L22,-30.2L24,-32.9L26,-35L30.2,-38.8L32.1,-40.8L42,-54.8L44.5,-58.8L46.1,-60.8L47.2,-61.8L49,-63L54,-65.2L56,-65.6L59,-65.5L64,-64.1L66.3,-62.8L68.4,-60.8L73.3,-54.8L76.2,-49.8L79.9,-45.8L81.9,-42.8L82.9,-39.8L83.5,-33.8L84,-32.6L85.4,-30.8L87,-29.5L89,-28.5L92,-27.6L98,-26.2L100,-25.5L103,-23.8L105,-22.2L106.1,-20.8L106.8,-18.8L106.9,-16.8L106.7,-15.8L106,-14.3L105,-13.2L104,-12.5L103,-12L98,-11L93,-9.1L91,-9L85,-10.4L82,-10.6L79,-9.9L75,-8.1L74,-7.9L73,-7.8L65,-9.6L61,-9.7L58,-9.2L52,-7.2L50,-6.8Z"/>
<path fill="#7b8ec5" fill-rule="evenodd" d="M32,-9.7L28,-9.1L24,-9.1L20,-9.3L17.7,-9.8L15.8,-10.8L14.8,-11.8L14.3,-12.8L14.3,-14.8L15,-16.8L16,-18.3L17.4,-19.8L21,-22.8L21.9,-23.8L24.6,-27.8L27,-30.4L34.5,-36.8L38.6,-40.8L42.6,-45.8L46.5,-51.8L51,-56.8L53.5,-58.8L56,-59.7L59,-59.8L61,-59.1L63,-57.7L66,-54.7L71,-46.8L73.2,-42.8L74.1,-40.8L74.4,-39.8L74.5,-37.8L74.3,-34.8L73.1,-29.8L71.8,-26.8L70,-24.4L63.9,-19.8L60.5,-17.8L51,-13.2L48,-12.1L45,-11.4L37,-10.6L32,-9.7Z"/>
<path fill="#6572b5" fill-rule="evenodd" d="M30,-13.8L26,-13.3L23,-13.6L22,-13.9L21,-14.5L20.7,-14.8L20.3,-15.8L20.4,-16.8L20.8,-17.8L21.5,-18.8L24.8,-21.8L27,-24.8L30,-27.3L42,-35.3L48,-39.9L51,-41.4L56,-43.1L58,-43.3L59,-43.1L61,-41.8L64,-38.8L65.1,-36.8L65.4,-34.8L65.4,-33.8L65,-32.4L64.2,-30.8L63,-29.5L61,-28.2L55,-25.2L50,-22.2L44.9,-19.8L41,-17.6L36.4,-15.8L30,-13.8Z"/>
<g clip-path="url(#dk3)"><path d="M23.3,-40.36L209.7,-40.36M46.6,0L139.8,-161.43M186.4,0L93.2,-161.43M46.6,-80.71L186.4,-80.71M93.2,0L163.1,-121.07M139.8,0L69.9,-121.07M69.9,-121.07L163.1,-121.07M139.8,0L186.4,-80.71M93.2,0L46.6,-80.71M93.2,-161.43L139.8,-161.43M186.4,0L209.7,-40.36M46.6,0L23.3,-40.36" stroke="#8a9aa0" stroke-opacity="0.12" stroke-width="1" fill="none"/><path d="M11.65,-20.18L221.35,-20.18M23.3,0L128.15,-181.61M209.7,0L104.85,-181.61M34.95,-60.54L198.05,-60.54M69.9,0L151.45,-141.25M163.1,0L81.55,-141.25M58.25,-100.89L174.75,-100.89M116.5,0L174.75,-100.89M116.5,0L58.25,-100.89M81.55,-141.25L151.45,-141.25M163.1,0L198.05,-60.54M69.9,0L34.95,-60.54M104.85,-181.61L128.15,-181.61M209.7,0L221.35,-20.18M23.3,0L11.65,-20.18" stroke="#8a9aa0" stroke-opacity="0.05" stroke-width="0.9" fill="none"/></g>
<circle cx="93.2" cy="-121.07" r="1.2"/>
<circle cx="116.5" cy="-121.07" r="1.2"/>
<circle cx="139.8" cy="-121.07" r="2.65"/>
<circle cx="104.85" cy="-100.89" r="3"/>
<circle cx="128.15" cy="-100.89" r="3.7"/>
<circle cx="151.45" cy="-100.89" r="2.75"/>
<circle cx="174.75" cy="-100.89" r="2.65"/>
<circle cx="69.9" cy="-80.71" r="1.2"/>
<circle cx="93.2" cy="-80.71" r="2.65"/>
<circle cx="116.5" cy="-80.71" r="2.9"/>
<circle cx="139.8" cy="-80.71" r="5"/>
<circle cx="163.1" cy="-80.71" r="2.35"/>
<circle cx="119.11" cy="-68.89" r="1.3"/>
<circle cx="81.55" cy="-60.54" r="4"/>
<circle cx="104.85" cy="-60.54" r="5.7"/>
<circle cx="128.15" cy="-60.54" r="3.4"/>
<circle cx="151.45" cy="-60.54" r="3.15"/>
<circle cx="46.6" cy="-40.36" r="1.2"/>
<circle cx="69.9" cy="-40.36" r="4.35"/>
<circle cx="93.2" cy="-40.36" r="3.7"/>
<circle cx="116.5" cy="-40.36" r="2.5"/>
<circle cx="139.8" cy="-40.36" r="2.5"/>
<circle cx="163.1" cy="-40.36" r="1.45"/>
<circle cx="34.95" cy="-20.18" r="3.4"/>
<circle cx="81.55" cy="-20.18" r="1.2"/>
<circle cx="104.85" cy="-20.18" r="1.2"/>
<circle cx="46.6" cy="0" r="2.25"/>
<circle cx="69.9" cy="0" r="3.4"/>
<circle cx="139.8" cy="0" r="1.85"/>
</g>
<path d="M209.7,-40.36l2.5,0M93.2,-161.43l-1.25,-2.17M46.6,0l-1.25,2.17M186.4,-80.71l2.5,0M69.9,-121.07l-1.25,-2.17M93.2,0l-1.25,2.17M163.1,-121.07l2.5,0M46.6,-80.71l-1.25,-2.17M139.8,0l-1.25,2.17M139.8,-161.43l2.5,0M23.3,-40.36l-1.25,-2.17M186.4,0l-1.25,2.17M116.5,-201.78l2.5,0M0,0l-1.25,-2.17M233,0l-1.25,2.17" stroke="#b0b0b0" stroke-width="0.8" fill="none"/>
<path d="M0,0L233,0L116.5,-201.78 Z" stroke="#0d0d0d" stroke-width="1.55" fill="none" stroke-linejoin="miter"/>
<g class="tl">
<text transform="translate(214.2,-35.56) scale(1,1)">0.2</text>
<text text-anchor="end" transform="translate(93.2,-161.43) rotate(60) scale(1,1)" x="-4.95" y="5.27">0.2</text>
<text text-anchor="end" transform="translate(46.6,0) rotate(-60) scale(1,1)" x="-4.6" y="5.5">0.2</text>
<text transform="translate(190.9,-75.91) scale(1,1)">0.4</text>
<text text-anchor="end" transform="translate(69.9,-121.07) rotate(60) scale(1,1)" x="-4.95" y="5.27">0.4</text>
<text text-anchor="end" transform="translate(93.2,0) rotate(-60) scale(1,1)" x="-4.6" y="5.5">0.4</text>
<text transform="translate(167.6,-116.27) scale(1,1)">0.6</text>
<text text-anchor="end" transform="translate(46.6,-80.71) rotate(60) scale(1,1)" x="-4.95" y="5.27">0.6</text>
<text text-anchor="end" transform="translate(139.8,0) rotate(-60) scale(1,1)" x="-4.6" y="5.5">0.6</text>
<text transform="translate(144.3,-156.63) scale(1,1)">0.8</text>
<text text-anchor="end" transform="translate(23.3,-40.36) rotate(60) scale(1,1)" x="-4.95" y="5.27">0.8</text>
<text text-anchor="end" transform="translate(186.4,0) rotate(-60) scale(1,1)" x="-4.6" y="5.5">0.8</text>
<text transform="translate(121,-196.98) scale(1,1)">1</text>
<text text-anchor="end" transform="translate(0,0) rotate(60) scale(1,1)" x="-4.95" y="5.27">1</text>
<text text-anchor="end" transform="translate(233,0) rotate(-60) scale(1,1)" x="-4.6" y="5.5">1</text>
</g>
<g class="ar">
<path d="M58.8,-152.7L12.1,-72.1M12.1,-72.1l0.5,-6.4M12.1,-72.1l5.4,-3.5"/>
<path d="M221.6,-73.2L174.8,-153.1M174.8,-153.1l5.4,3.5M174.8,-153.1l0.5,6.4"/>
<path d="M69.3,23.3L163.8,23.3M163.8,23.3l-5.6,-2.7M163.8,23.3l-5.6,2.7"/>
</g>
<g class="at">
<text text-anchor="middle" transform="translate(35.5,-113.5) rotate(-60) scale(1,1)">self</text>
<text text-anchor="middle" transform="translate(198.5,-113) rotate(60) scale(1,1)">victim</text>
<text text-anchor="middle" transform="translate(116.8,35.1) scale(1,1)">other</text>
</g>
</g>
<g transform="translate(29.5,905.5)">
<clipPath id="c4"><path d="M0,0L233,0L116.5,-201.78 Z"/></clipPath>
<path d="M11.65,-20.18L221.35,-20.18M23.3,0L128.15,-181.61M209.7,0L104.85,-181.61M34.95,-60.54L198.05,-60.54M69.9,0L151.45,-141.25M163.1,0L81.55,-141.25M58.25,-100.89L174.75,-100.89M116.5,0L174.75,-100.89M116.5,0L58.25,-100.89M81.55,-141.25L151.45,-141.25M163.1,0L198.05,-60.54M69.9,0L34.95,-60.54M104.85,-181.61L128.15,-181.61M209.7,0L221.35,-20.18M23.3,0L11.65,-20.18" stroke="#f1f1f1" stroke-width="0.9" fill="none"/>
<path d="M23.3,-40.36L209.7,-40.36M46.6,0L139.8,-161.43M186.4,0L93.2,-161.43M46.6,-80.71L186.4,-80.71M93.2,0L163.1,-121.07M139.8,0L69.9,-121.07M69.9,-121.07L163.1,-121.07M139.8,0L186.4,-80.71M93.2,0L46.6,-80.71M93.2,-161.43L139.8,-161.43M186.4,0L209.7,-40.36M46.6,0L23.3,-40.36" stroke="#e3e3e3" stroke-width="1" fill="none"/>
<g clip-path="url(#c4)">
<clipPath id="dk4"><path clip-rule="evenodd" d="M239,5.2L-6,5.2L-6,-207.8L239,-207.8L239,5.2Z"/></clipPath>
<path fill="#dff9fb" fill-rule="evenodd" d="M239,5.2L-6,5.2L-6,-207.8L239,-207.8L239,5.2Z"/>
<path fill="#c8edf3" fill-rule="evenodd" d="M194,0.2L184,0.8L177,0.6L171,-0.1L159,-2.5L156,-2.9L139,-2.5L121,-2.5L107,-2L97,-2.6L89,-2.9L73,-4.6L65,-5L57,-5L43,-3.6L32,-3L28,-3L25,-3.4L23,-3.9L19,-5.5L17,-6.7L15.7,-7.8L14,-9.7L13.3,-10.8L12.6,-12.8L12.2,-15.8L12.3,-18.8L13.3,-23.8L14.2,-26.8L15,-28.8L19.7,-37.8L21,-39.9L23.1,-42.8L29.3,-49.8L34.4,-54.8L37.3,-58.8L43,-68.2L47,-75.3L55.7,-93.8L60,-100.4L61.3,-102.8L62.2,-104.8L63.9,-111.8L65.2,-114.8L67.3,-117.8L72,-122.9L73.5,-124.8L76,-131.5L77.7,-134.8L79.7,-137.8L83.9,-142.8L85.3,-144.8L87.6,-151.8L90,-156.1L92.7,-159.8L97.8,-165.8L103,-174.6L105.1,-177.8L107,-179.9L110,-181.7L113,-182.7L116,-183.1L119,-183.1L122,-182.6L124,-182L126.2,-180.8L128,-179.3L130,-176.9L137.3,-164.8L141.6,-156.8L146.4,-148.8L150,-142L154,-136L155.9,-132.8L157.6,-128.8L159,-124.8L162.6,-110.8L163.4,-108.8L164.6,-106.8L166,-104.7L168.5,-101.8L178,-91.9L190.8,-75.8L197,-68.4L200.2,-63.8L205.8,-54.8L209.5,-49.8L212.2,-44.8L216,-34.8L219.5,-27.8L221.3,-22.8L223.4,-12.8L223.5,-9.8L223,-7.8L222.4,-6.8L221,-5.5L219,-4.3L217,-3.6L214,-2.9L210,-2.3L203,-0.6L199,-0.1L194,0.2Z"/>
<path fill="#b2d9ea" fill-rule="evenodd" d="M191,-6.7L183,-6L177,-6L172,-6.5L159,-8.2L151,-8.9L144,-9.2L122,-9.3L118,-9.1L109,-8L102,-8.1L94,-8.8L90,-9.6L86.4,-10.8L77,-14.8L73,-15.6L67,-15.8L57,-15.1L49,-15L45,-14.6L37,-13.5L33,-13.4L30,-13.7L27,-14.6L25,-15.8L23.4,-17.8L23,-18.8L22.4,-20.8L22.2,-22.8L22.3,-24.8L23.1,-27.8L26,-34.8L27.4,-36.8L32,-41.8L36,-46.8L37,-47.8L42,-51.5L44.5,-53.8L46.1,-55.8L47.8,-58.8L54,-73.3L57.7,-82.8L58.3,-84.8L58.6,-88.8L59.3,-91.8L60.3,-93.8L62.8,-97.8L63.7,-99.8L65,-103.8L66.7,-110.8L68,-113.8L69.4,-115.8L73,-120L75.1,-122.8L76.2,-124.8L78.3,-129.8L80,-132.8L82,-135.4L87.2,-140.8L88.7,-142.8L89.7,-144.8L91,-148.1L92.8,-150.8L101.2,-159.8L108,-165.7L110,-167.2L112,-168.4L114,-169.3L117,-169.9L119,-169.9L121,-169.6L123,-168.8L125,-167.5L128,-164.1L132,-158.5L141,-144.8L144.8,-137.8L149,-130.8L150.4,-126.8L151.9,-121.8L155.1,-107.8L155.9,-104.8L157.5,-100.8L159.2,-97.8L162,-93.9L166.6,-88.8L183,-73.3L190.3,-65.8L193,-62.4L199,-53.8L203,-48.7L204.7,-45.8L208.8,-35.8L211.6,-29.8L212.9,-25.8L213.7,-21.8L214,-18.8L213.8,-15.8L213.3,-13.8L212.2,-11.8L211,-10.4L209,-9.2L207,-8.5L203,-7.4L200,-7L191,-6.7Z"/>
<path fill="#9dbcdc" fill-rule="evenodd" d="M197,-13.7L190,-13.6L181,-13L176,-13.1L158,-14.8L149,-16.5L145,-17L133,-17.4L128,-17L114,-14.5L110,-14L104,-13.7L98,-13.8L96,-14.3L93,-15.6L90.9,-16.8L89.6,-17.8L87.9,-19.8L85,-25.4L84,-26.8L82,-28.8L80,-30.2L78,-31.2L75,-32.2L67,-33.3L64.8,-33.8L63,-34.6L62,-35.4L61,-36.4L60,-37.8L59.2,-39.8L58.9,-40.8L58.9,-43.8L60.5,-54.8L60.8,-68.8L61.3,-73.8L63.2,-79.8L63.6,-81.8L63.8,-84.8L63.6,-88.8L63.8,-90.8L66.4,-95.8L67.2,-97.8L68.1,-102.8L69.9,-109.8L70.6,-111.8L76,-119.6L81,-128.8L82.4,-130.8L84,-132.6L96,-143.4L98,-144.7L103,-146.8L104,-147.5L108,-152.1L110,-153.8L112,-154.7L115,-155.4L118,-155.4L121,-154.7L123,-153.8L125,-152.4L127,-150.6L130,-147.1L137.4,-136.8L139.1,-133.8L143.4,-124.8L144.3,-121.8L146,-114.8L146.9,-105.8L148.5,-95.8L150,-90.8L152,-86.8L153.4,-84.8L155.3,-82.8L174,-70L178,-67L181,-64.5L184,-61.4L186.9,-57.8L195.8,-44.8L198,-40.8L199.9,-35.8L203.4,-25.8L203.8,-23.8L204,-21.8L203.9,-19.8L203.6,-18.8L202.5,-16.8L201.5,-15.8L200.2,-14.8L198,-13.9L197,-13.7Z"/>
<path fill="#8297ca" fill-rule="evenodd" d="M124,-83.8L121,-83.5L119,-83.5L116,-84L113,-84.7L99.7,-88.8L88,-92.1L82,-94.4L81,-95.1L80,-96.1L77,-100.7L75.9,-102.8L75.2,-105.8L75.4,-108.8L76.3,-111.8L80,-121.1L81,-122.7L84,-126.9L86.7,-129.8L89,-131.3L93,-133.6L97,-135.6L100,-136.8L114,-140.6L117,-141.1L119,-141.1L121,-140.8L123,-140.1L125,-139L128,-136.3L132,-131.8L134,-129.3L135.5,-126.8L138,-121L139,-117.8L139.2,-115.8L139.2,-112.8L138.2,-101.8L137.1,-96.8L136.3,-93.8L135.1,-90.8L134,-89.2L132,-87.2L129,-85.2L127,-84.4L124,-83.8ZM174,-23.7L170,-23.6L167,-23.9L163,-24.9L158.3,-26.8L155,-28.8L152.5,-30.8L150.6,-32.8L147.6,-36.8L144.3,-41.8L141.4,-47.8L138,-54.1L136,-58.5L135,-61.8L134.6,-64.8L134.8,-66.8L135,-67.5L136.6,-69.8L138.9,-71.8L140.6,-72.8L142,-73.3L145,-73.7L148,-73.3L151,-71.9L160,-66.8L165.4,-62.8L170.3,-58.8L173.6,-55.8L176.4,-52.8L178.8,-49.8L182,-44.8L184.2,-39.8L185.1,-36.8L185.4,-34.8L185.5,-32.8L185.4,-30.8L185,-29.3L184.2,-27.8L183.2,-26.8L182,-25.9L179,-24.7L177,-24.1L174,-23.7ZM114,-21.7L112,-21.5L110,-21.7L107,-22.8L105.3,-23.8L104.3,-24.8L103.6,-25.8L103.3,-26.8L103.1,-27.8L103.3,-29.8L103.9,-31.8L104.5,-32.8L106.5,-34.8L109,-36.1L111,-36.5L113,-36.6L115,-36.3L117,-35.7L118.9,-34.8L120.3,-33.8L121.2,-32.8L122,-31.4L122.4,-29.8L122.1,-27.8L121.3,-25.8L120.5,-24.8L119.5,-23.8L118,-23L114,-21.7Z"/>
<path fill="#6672b5" fill-rule="evenodd" d="M97,-106.7L94,-106.6L91,-107.3L89.9,-107.8L88.5,-108.8L86.9,-110.8L86.5,-111.8L86.2,-113.8L86.3,-115.8L86.5,-116.8L87,-117.8L88,-119.2L89.8,-120.8L91,-121.5L92,-122L94,-122.4L100,-122.2L103,-121.4L110,-118.1L111,-117.9L112,-118L115,-119L117,-119.2L118.9,-118.8L120.1,-117.8L120.5,-116.8L120.4,-115.8L119.6,-114.8L119,-114.4L117,-114L112,-114.7L111,-114.6L110,-114.2L105.4,-110.8L101,-108.1L99,-107.2L97,-106.7Z"/>
<g clip-path="url(#dk4)"><path d="M23.3,-40.36L209.7,-40.36M46.6,0L139.8,-161.43M186.4,0L93.2,-161.43M46.6,-80.71L186.4,-80.71M93.2,0L163.1,-121.07M139.8,0L69.9,-121.07M69.9,-121.07L163.1,-121.07M139.8,0L186.4,-80.71M93.2,0L46.6,-80.71M93.2,-161.43L139.8,-161.43M186.4,0L209.7,-40.36M46.6,0L23.3,-40.36" stroke="#8a9aa0" stroke-opacity="0.12" stroke-width="1" fill="none"/><path d="M11.65,-20.18L221.35,-20.18M23.3,0L128.15,-181.61M209.7,0L104.85,-181.61M34.95,-60.54L198.05,-60.54M69.9,0L151.45,-141.25M163.1,0L81.55,-141.25M58.25,-100.89L174.75,-100.89M116.5,0L174.75,-100.89M116.5,0L58.25,-100.89M81.55,-141.25L151.45,-141.25M163.1,0L198.05,-60.54M69.9,0L34.95,-60.54M104.85,-181.61L128.15,-181.61M209.7,0L221.35,-20.18M23.3,0L11.65,-20.18" stroke="#8a9aa0" stroke-opacity="0.05" stroke-width="0.9" fill="none"/></g>
<circle cx="93.2" cy="-121.07" r="1.2"/>
<circle cx="116.5" cy="-121.07" r="1.2"/>
<circle cx="139.8" cy="-121.07" r="2.65"/>
<circle cx="104.85" cy="-100.89" r="3"/>
<circle cx="128.15" cy="-100.89" r="3.7"/>
<circle cx="151.45" cy="-100.89" r="2.75"/>
<circle cx="174.75" cy="-100.89" r="2.65"/>
<circle cx="69.9" cy="-80.71" r="1.2"/>
<circle cx="93.2" cy="-80.71" r="2.65"/>
<circle cx="116.5" cy="-80.71" r="2.9"/>
<circle cx="139.8" cy="-80.71" r="5"/>
<circle cx="163.1" cy="-80.71" r="2.35"/>
<circle cx="119.11" cy="-68.89" r="1.3"/>
<circle cx="81.55" cy="-60.54" r="4"/>
<circle cx="104.85" cy="-60.54" r="5.7"/>
<circle cx="128.15" cy="-60.54" r="3.4"/>
<circle cx="151.45" cy="-60.54" r="3.15"/>
<circle cx="46.6" cy="-40.36" r="1.2"/>
<circle cx="69.9" cy="-40.36" r="4.35"/>
<circle cx="93.2" cy="-40.36" r="3.7"/>
<circle cx="116.5" cy="-40.36" r="2.5"/>
<circle cx="139.8" cy="-40.36" r="2.5"/>
<circle cx="163.1" cy="-40.36" r="1.45"/>
<circle cx="34.95" cy="-20.18" r="3.4"/>
<circle cx="81.55" cy="-20.18" r="1.2"/>
<circle cx="104.85" cy="-20.18" r="1.2"/>
<circle cx="46.6" cy="0" r="2.25"/>
<circle cx="69.9" cy="0" r="3.4"/>
<circle cx="139.8" cy="0" r="1.85"/>
</g>
<path d="M209.7,-40.36l2.5,0M93.2,-161.43l-1.25,-2.17M46.6,0l-1.25,2.17M186.4,-80.71l2.5,0M69.9,-121.07l-1.25,-2.17M93.2,0l-1.25,2.17M163.1,-121.07l2.5,0M46.6,-80.71l-1.25,-2.17M139.8,0l-1.25,2.17M139.8,-161.43l2.5,0M23.3,-40.36l-1.25,-2.17M186.4,0l-1.25,2.17M116.5,-201.78l2.5,0M0,0l-1.25,-2.17M233,0l-1.25,2.17" stroke="#b0b0b0" stroke-width="0.8" fill="none"/>
<path d="M0,0L233,0L116.5,-201.78 Z" stroke="#0d0d0d" stroke-width="1.55" fill="none" stroke-linejoin="miter"/>
<g class="tl">
<text transform="translate(214.2,-35.56) scale(1,1)">0.2</text>
<text text-anchor="end" transform="translate(93.2,-161.43) rotate(60) scale(1,1)" x="-4.95" y="5.27">0.2</text>
<text text-anchor="end" transform="translate(46.6,0) rotate(-60) scale(1,1)" x="-4.6" y="5.5">0.2</text>
<text transform="translate(190.9,-75.91) scale(1,1)">0.4</text>
<text text-anchor="end" transform="translate(69.9,-121.07) rotate(60) scale(1,1)" x="-4.95" y="5.27">0.4</text>
<text text-anchor="end" transform="translate(93.2,0) rotate(-60) scale(1,1)" x="-4.6" y="5.5">0.4</text>
<text transform="translate(167.6,-116.27) scale(1,1)">0.6</text>
<text text-anchor="end" transform="translate(46.6,-80.71) rotate(60) scale(1,1)" x="-4.95" y="5.27">0.6</text>
<text text-anchor="end" transform="translate(139.8,0) rotate(-60) scale(1,1)" x="-4.6" y="5.5">0.6</text>
<text transform="translate(144.3,-156.63) scale(1,1)">0.8</text>
<text text-anchor="end" transform="translate(23.3,-40.36) rotate(60) scale(1,1)" x="-4.95" y="5.27">0.8</text>
<text text-anchor="end" transform="translate(186.4,0) rotate(-60) scale(1,1)" x="-4.6" y="5.5">0.8</text>
<text transform="translate(121,-196.98) scale(1,1)">1</text>
<text text-anchor="end" transform="translate(0,0) rotate(60) scale(1,1)" x="-4.95" y="5.27">1</text>
<text text-anchor="end" transform="translate(233,0) rotate(-60) scale(1,1)" x="-4.6" y="5.5">1</text>
</g>
<g class="ar">
<path d="M58.8,-152.7L12.1,-72.1M12.1,-72.1l0.5,-6.4M12.1,-72.1l5.4,-3.5"/>
<path d="M221.6,-73.2L174.8,-153.1M174.8,-153.1l5.4,3.5M174.8,-153.1l0.5,6.4"/>
<path d="M69.3,23.3L163.8,23.3M163.8,23.3l-5.6,-2.7M163.8,23.3l-5.6,2.7"/>
</g>
<g class="at">
<text text-anchor="middle" transform="translate(35.5,-113.5) rotate(-60) scale(1,1)">self</text>
<text text-anchor="middle" transform="translate(198.5,-113) rotate(60) scale(1,1)">victim</text>
<text text-anchor="middle" transform="translate(116.8,35.1) scale(1,1)">other</text>
</g>
</g>
<g transform="translate(447.6,905.5)">
<clipPath id="c5"><path d="M0,0L233,0L116.5,-201.78 Z"/></clipPath>
<path d="M11.65,-20.18L221.35,-20.18M23.3,0L128.15,-181.61M209.7,0L104.85,-181.61M34.95,-60.54L198.05,-60.54M69.9,0L151.45,-141.25M163.1,0L81.55,-141.25M58.25,-100.89L174.75,-100.89M116.5,0L174.75,-100.89M116.5,0L58.25,-100.89M81.55,-141.25L151.45,-141.25M163.1,0L198.05,-60.54M69.9,0L34.95,-60.54M104.85,-181.61L128.15,-181.61M209.7,0L221.35,-20.18M23.3,0L11.65,-20.18" stroke="#f1f1f1" stroke-width="0.9" fill="none"/>
<path d="M23.3,-40.36L209.7,-40.36M46.6,0L139.8,-161.43M186.4,0L93.2,-161.43M46.6,-80.71L186.4,-80.71M93.2,0L163.1,-121.07M139.8,0L69.9,-121.07M69.9,-121.07L163.1,-121.07M139.8,0L186.4,-80.71M93.2,0L46.6,-80.71M93.2,-161.43L139.8,-161.43M186.4,0L209.7,-40.36M46.6,0L23.3,-40.36" stroke="#e3e3e3" stroke-width="1" fill="none"/>
<g clip-path="url(#c5)">
<clipPath id="dk5"><path clip-rule="evenodd" d="M191,5.2L-6,5.2L-6,-207.8L239,-207.8L239,-60.7L224,-60.7L223,-59.7L219,-59.6L218,-58.6L215,-58.6L214,-57.6L212,-57.5L211,-56.5L210,-56.4L209,-55.3L207.1,-54.8L207.2,-48.8L207.6,-45.8L211.6,-35.8L212.2,-33.8L212.8,-30.8L213.1,-27.8L213,-23.8L212.7,-19.8L212.1,-16.8L210.7,-12.8L209.3,-9.8L205,-2.8L203.4,-0.8L201,1.1L198,2.8L194,4.4L191,5.2Z"/></clipPath>
<path fill="#e0fbfb" fill-rule="evenodd" d="M191,5.2L-6,5.2L-6,-207.8L239,-207.8L239,-60.7L224,-60.7L223,-59.7L219,-59.6L218,-58.6L215,-58.6L214,-57.6L212,-57.5L211,-56.5L210,-56.4L209,-55.3L207.1,-54.8L207.2,-48.8L207.6,-45.8L211.6,-35.8L212.2,-33.8L212.8,-30.8L213.1,-27.8L213,-23.8L212.7,-19.8L212.1,-16.8L210.7,-12.8L209.3,-9.8L205,-2.8L203.4,-0.8L201,1.1L198,2.8L194,4.4L191,5.2Z"/>
<path fill="#c8edf3" fill-rule="evenodd" d="M132,0.3L126,1L121,1.1L115,0.5L100,-2.4L85,-1.4L80,-1.3L76,-1.6L66,-2.8L61,-3.1L58,-3L50,-1.2L44,-0.5L38,-0.6L28,-1.7L21,-0.9L18,-0.9L16,-1.2L13.5,-1.8L11,-2.8L9,-4.2L6.8,-6.8L4.5,-10.8L3.2,-13.8L2.1,-17.8L1.5,-21.8L1.4,-27.8L2.1,-33.8L3.5,-39.8L5.7,-45.8L8.7,-51.8L12.5,-57.8L17,-63.8L28.5,-77.8L31.2,-81.8L33.9,-86.8L36.8,-93.8L39.8,-102.8L41.7,-109.8L45.7,-126.8L47.4,-132.8L49.1,-137.8L51.5,-143.8L54,-149.3L57,-154.8L60.2,-159.8L65.5,-166.8L68.2,-169.8L71.2,-172.8L74,-175.2L77.3,-177.8L80.3,-179.8L83.8,-181.8L90,-184.5L96,-186.3L102,-187.5L112,-188.6L116,-189.5L117,-189.6L119,-189.1L122,-187.6L125,-185.2L128,-181.8L130,-178.5L133,-172L138.1,-162.8L147,-144.3L149.6,-139.8L153.5,-133.8L157.7,-127.8L162,-122.3L167.2,-116.8L172,-110.7L179.9,-102.8L182,-100.2L183.6,-97.8L185.1,-94.8L188,-87.7L193.2,-76.8L196,-69.5L197,-66L197.4,-63.8L198.6,-52.8L199.5,-48.8L201,-43.9L201.2,-42.8L201.2,-36.8L200.6,-31.8L199.4,-26.8L197.8,-22.8L195.7,-18.8L192.8,-14.8L189,-10.9L185,-8L182,-6.5L178,-4.9L174,-3.8L170,-3L166,-2.6L162,-2.4L148,-2.7L132,0.3Z"/>
<path fill="#b0d9ea" fill-rule="evenodd" d="M49,-5.6L45,-5.1L40,-5L29,-6.1L22,-6.5L20,-7.1L18.4,-7.8L16.7,-8.8L15,-10.3L13.9,-11.8L13,-14.8L12.7,-17.8L12.7,-20.8L13.3,-26.8L14,-31.8L15,-35.8L16.4,-39.8L18.8,-44.8L22,-49.8L29.3,-59.8L38,-70.8L40.1,-73.8L42,-76.9L43.9,-80.8L48,-90.8L53.9,-103.8L55.7,-108.8L59.7,-121.8L63,-130.1L65.8,-135.8L69,-141.6L72.9,-147.8L76.4,-152.8L81.2,-158.8L86.8,-164.8L91.5,-168.8L96,-171.7L99,-173.2L102,-174.3L113,-177.2L116,-177.5L119,-177L122,-175.4L124,-173.6L125.5,-171.8L127,-169.1L130.3,-162.8L135.9,-150.8L137.4,-146.8L139.4,-140.8L140.7,-137.8L142.2,-134.8L144.2,-131.8L146.5,-128.8L149.2,-125.8L158,-117.7L164.1,-111.8L169,-105.1L175,-97.8L177,-94.7L178.1,-91.8L183.1,-74.8L184,-70.8L184.7,-66.8L185.5,-54.8L187,-46.8L187.5,-42.8L187.4,-38.8L187,-35.8L186.3,-32.8L185.3,-29.8L183.3,-25.8L181.3,-22.8L178.6,-19.8L176,-17.5L173,-15.4L169,-13.4L165,-12.2L161,-11.3L149,-9.6L139,-9L125,-7.1L121,-6.7L119,-6.8L112,-7.6L108,-7.9L100,-7.6L91,-8.4L87,-8.3L79,-7.8L68,-8.3L61,-7.8L56,-7L49,-5.6Z"/>
<path fill="#9dc1de" fill-rule="evenodd" d="M44,-9.7L37,-9.6L30,-10.2L27,-11.1L25.8,-11.8L24.6,-12.8L23.2,-14.8L22.2,-16.8L21.8,-17.8L21.7,-19.8L22.8,-27.8L23.7,-30.8L24.6,-32.8L26,-35.5L28,-38.6L33.4,-44.8L36,-48.5L37.2,-50.8L39.7,-56.8L43,-62.3L49.8,-74.8L52.5,-81.8L55,-86.7L58,-91.1L63.5,-97.8L69.6,-106.8L71.4,-109.8L74.9,-116.8L78.5,-121.8L81,-125.8L88.6,-140.8L92.3,-146.8L97,-153L101,-158.8L103,-161L105,-162.8L106.4,-163.8L108.3,-164.8L112,-165.9L115,-166L116.1,-165.8L118,-165L120,-163.6L122,-161.3L126.5,-152.8L129.4,-147.8L130.2,-145.8L130.6,-143.8L130.8,-137.8L131.4,-134.8L132.8,-130.8L135,-126.8L137.3,-123.8L140.4,-120.8L144.5,-117.8L153.6,-111.8L156,-109.9L158,-108L159.9,-105.8L161.9,-102.8L164.2,-98.8L165.5,-95.8L167.4,-89.8L168.4,-83.8L168.8,-75.8L168,-65.8L168,-62.8L168.5,-58.8L170.5,-49.8L170.9,-46.8L171,-43.8L170.6,-39.8L169.9,-36.8L168.8,-33.8L167.8,-31.8L166,-29.3L164,-27.2L162,-25.6L160,-24.3L158,-23.4L156,-22.7L152,-21.7L145,-20.7L129,-19.4L125,-19.4L112,-20.3L108,-20.3L104,-19.9L94,-18.5L80,-17.6L65,-14.4L49,-10.4L44,-9.7Z"/>
<path fill="#8ba6d2" fill-rule="evenodd" d="M114,-117.6L112,-117.2L111,-117.2L109,-117.9L107,-119.3L105.6,-120.8L104.5,-122.8L103.7,-124.8L103.4,-126.8L103.3,-129.8L103.5,-131.8L104,-133.8L105,-135.9L106.4,-137.8L108,-139.3L110,-140.4L112,-140.9L113,-140.9L114,-140.6L115,-140.1L116.2,-138.8L117,-137.4L118.1,-134.8L118.7,-132.8L119.1,-129.8L119.2,-126.8L119.1,-124.8L118.2,-121.8L117,-119.9L116,-118.8L114,-117.6ZM145,-85.6L143,-85.3L140,-85.2L135,-85.9L132,-87.1L130,-88.6L129,-89.6L128,-90.9L127,-92.8L126.3,-94.8L125.9,-96.8L126,-98.1L126.5,-99.8L127.6,-101.8L128.5,-102.8L131,-104.5L133,-105.4L135,-105.8L138,-105.8L142,-105.1L145,-104.1L147.5,-102.8L150,-100.8L151.5,-98.8L152.4,-96.8L152.9,-93.8L152.6,-91.8L151.6,-89.8L150,-88L148,-86.7L145,-85.6ZM35,-14.8L33,-14.6L31,-14.8L30,-15.2L29,-16L28,-17.2L27.2,-18.8L27.2,-19.8L28,-22.4L29,-24.2L31,-26.1L33,-27.1L36,-28.3L38,-29.9L40.5,-32.8L43,-36.5L45,-40.7L46.5,-44.8L46.9,-46.8L47.1,-50.8L47.6,-53.8L49.3,-58.8L50.3,-62.8L51.3,-65.8L56,-75.7L58,-79.4L61,-83.7L64,-86.9L69,-90.8L73,-93L77,-94.1L79,-94.3L81,-94.3L84,-93.7L87,-92.6L94,-89.3L99,-86.7L106.5,-83.8L108,-82.9L109,-81.9L110.1,-79.8L110.8,-77.8L111.2,-75.8L111.2,-73.8L110.6,-70.8L108.5,-65.8L107.8,-60.8L107.3,-58.8L106.4,-56.8L103.8,-52.8L103.1,-50.8L102.3,-47.8L100.9,-44.8L95.2,-36.8L92.3,-33.8L90,-31.9L88,-30.5L85,-29L82,-27.9L69.7,-24.8L58,-20.6L46.2,-16.8L42,-15.8L35,-14.8ZM121,-34.5L119,-34.2L117,-34.6L116,-35.3L114.6,-36.8L113.2,-38.8L112.2,-40.8L111.7,-42.8L111.7,-45.8L112.4,-48.8L114.7,-54.8L115.7,-56.8L117,-58.5L119,-60.5L122,-62.5L124,-63.2L126,-63.2L127,-62.8L128.3,-61.8L130,-59.8L131,-58L132.1,-54.8L132.3,-52.8L132.2,-50.8L131.8,-48.8L129.7,-42.8L128.3,-39.8L127,-38.1L125.5,-36.8L123,-35.3L121,-34.5Z"/>
<path fill="#7587c1" fill-rule="evenodd" d="M73,-35.7L67,-35.2L61,-35.3L59,-35.5L57,-36.1L56,-36.7L55,-37.7L54,-39.2L52.8,-42.8L52.4,-44.8L52.3,-46.8L54.2,-58.8L56,-63.3L59,-70.2L60,-72.1L62,-74.6L64,-76.7L66,-78.6L68,-80L70,-81.1L73,-82.2L76,-82.8L78,-82.8L82,-81.8L86.3,-79.8L90.2,-76.8L93,-73.9L94.4,-71.8L95.1,-69.8L95.8,-65.8L95.9,-61.8L95.5,-59.8L91.3,-49.8L90,-47.7L86,-42.7L84,-40.6L83,-39.8L81.3,-38.8L76.6,-36.8L73,-35.7Z"/>
<path fill="#5f6bb1" fill-rule="evenodd" d="M68,-49.4L66,-48.9L65,-49L64,-49.4L62.9,-50.8L62.6,-51.8L62.5,-53.8L62.8,-55.8L64,-57.9L66,-59.5L67,-60L68,-60.1L69,-59.9L70.4,-58.8L71.5,-56.8L71.9,-54.8L71.6,-52.8L71,-51.8L70,-50.6L68,-49.4Z"/>
<g clip-path="url(#dk5)"><path d="M23.3,-40.36L209.7,-40.36M46.6,0L139.8,-161.43M186.4,0L93.2,-161.43M46.6,-80.71L186.4,-80.71M93.2,0L163.1,-121.07M139.8,0L69.9,-121.07M69.9,-121.07L163.1,-121.07M139.8,0L186.4,-80.71M93.2,0L46.6,-80.71M93.2,-161.43L139.8,-161.43M186.4,0L209.7,-40.36M46.6,0L23.3,-40.36" stroke="#8a9aa0" stroke-opacity="0.12" stroke-width="1" fill="none"/><path d="M11.65,-20.18L221.35,-20.18M23.3,0L128.15,-181.61M209.7,0L104.85,-181.61M34.95,-60.54L198.05,-60.54M69.9,0L151.45,-141.25M163.1,0L81.55,-141.25M58.25,-100.89L174.75,-100.89M116.5,0L174.75,-100.89M116.5,0L58.25,-100.89M81.55,-141.25L151.45,-141.25M163.1,0L198.05,-60.54M69.9,0L34.95,-60.54M104.85,-181.61L128.15,-181.61M209.7,0L221.35,-20.18M23.3,0L11.65,-20.18" stroke="#8a9aa0" stroke-opacity="0.05" stroke-width="0.9" fill="none"/></g>
<circle cx="93.2" cy="-121.07" r="1.2"/>
<circle cx="116.5" cy="-121.07" r="1.2"/>
<circle cx="139.8" cy="-121.07" r="2.65"/>
<circle cx="104.85" cy="-100.89" r="3"/>
<circle cx="128.15" cy="-100.89" r="3.7"/>
<circle cx="151.45" cy="-100.89" r="2.75"/>
<circle cx="174.75" cy="-100.89" r="2.65"/>
<circle cx="69.9" cy="-80.71" r="1.2"/>
<circle cx="93.2" cy="-80.71" r="2.65"/>
<circle cx="116.5" cy="-80.71" r="2.9"/>
<circle cx="139.8" cy="-80.71" r="5"/>
<circle cx="163.1" cy="-80.71" r="2.35"/>
<circle cx="119.11" cy="-68.89" r="1.3"/>
<circle cx="81.55" cy="-60.54" r="4"/>
<circle cx="104.85" cy="-60.54" r="5.7"/>
<circle cx="128.15" cy="-60.54" r="3.4"/>
<circle cx="151.45" cy="-60.54" r="3.15"/>
<circle cx="46.6" cy="-40.36" r="1.2"/>
<circle cx="69.9" cy="-40.36" r="4.35"/>
<circle cx="93.2" cy="-40.36" r="3.7"/>
<circle cx="116.5" cy="-40.36" r="2.5"/>
<circle cx="139.8" cy="-40.36" r="2.5"/>
<circle cx="163.1" cy="-40.36" r="1.45"/>
<circle cx="34.95" cy="-20.18" r="3.4"/>
<circle cx="81.55" cy="-20.18" r="1.2"/>
<circle cx="104.85" cy="-20.18" r="1.2"/>
<circle cx="46.6" cy="0" r="2.25"/>
<circle cx="69.9" cy="0" r="3.4"/>
<circle cx="139.8" cy="0" r="1.85"/>
</g>
<path d="M209.7,-40.36l2.5,0M93.2,-161.43l-1.25,-2.17M46.6,0l-1.25,2.17M186.4,-80.71l2.5,0M69.9,-121.07l-1.25,-2.17M93.2,0l-1.25,2.17M163.1,-121.07l2.5,0M46.6,-80.71l-1.25,-2.17M139.8,0l-1.25,2.17M139.8,-161.43l2.5,0M23.3,-40.36l-1.25,-2.17M186.4,0l-1.25,2.17M116.5,-201.78l2.5,0M0,0l-1.25,-2.17M233,0l-1.25,2.17" stroke="#b0b0b0" stroke-width="0.8" fill="none"/>
<path d="M0,0L233,0L116.5,-201.78 Z" stroke="#0d0d0d" stroke-width="1.55" fill="none" stroke-linejoin="miter"/>
<g class="tl">
<text transform="translate(214.2,-35.56) scale(1,1)">0.2</text>
<text text-anchor="end" transform="translate(93.2,-161.43) rotate(60) scale(1,1)" x="-4.95" y="5.27">0.2</text>
<text text-anchor="end" transform="translate(46.6,0) rotate(-60) scale(1,1)" x="-4.6" y="5.5">0.2</text>
<text transform="translate(190.9,-75.91) scale(1,1)">0.4</text>
<text text-anchor="end" transform="translate(69.9,-121.07) rotate(60) scale(1,1)" x="-4.95" y="5.27">0.4</text>
<text text-anchor="end" transform="translate(93.2,0) rotate(-60) scale(1,1)" x="-4.6" y="5.5">0.4</text>
<text transform="translate(167.6,-116.27) scale(1,1)">0.6</text>
<text text-anchor="end" transform="translate(46.6,-80.71) rotate(60) scale(1,1)" x="-4.95" y="5.27">0.6</text>
<text text-anchor="end" transform="translate(139.8,0) rotate(-60) scale(1,1)" x="-4.6" y="5.5">0.6</text>
<text transform="translate(144.3,-156.63) scale(1,1)">0.8</text>
<text text-anchor="end" transform="translate(23.3,-40.36) rotate(60) scale(1,1)" x="-4.95" y="5.27">0.8</text>
<text text-anchor="end" transform="translate(186.4,0) rotate(-60) scale(1,1)" x="-4.6" y="5.5">0.8</text>
<text transform="translate(121,-196.98) scale(1,1)">1</text>
<text text-anchor="end" transform="translate(0,0) rotate(60) scale(1,1)" x="-4.95" y="5.27">1</text>
<text text-anchor="end" transform="translate(233,0) rotate(-60) scale(1,1)" x="-4.6" y="5.5">1</text>
</g>
<g class="ar">
<path d="M58.8,-152.7L12.1,-72.1M12.1,-72.1l0.5,-6.4M12.1,-72.1l5.4,-3.5"/>
<path d="M221.6,-73.2L174.8,-153.1M174.8,-153.1l5.4,3.5M174.8,-153.1l0.5,6.4"/>
<path d="M69.3,23.3L163.8,23.3M163.8,23.3l-5.6,-2.7M163.8,23.3l-5.6,2.7"/>
</g>
<g class="at">
<text text-anchor="middle" transform="translate(35.5,-113.5) rotate(-60) scale(1,1)">self</text>
<text text-anchor="middle" transform="translate(198.5,-113) rotate(60) scale(1,1)">victim</text>
<text text-anchor="middle" transform="translate(116.8,35.1) scale(1,1)">other</text>
</g>
</g>
<text class="cap b" x="2.6" y="287" textLength="25.7" lengthAdjust="spacingAndGlyphs">(a)</text>
<text class="cap" x="37.8" y="287" textLength="61.4" lengthAdjust="spacingAndGlyphs">ZOIGD</text>
<text class="cap" x="108.9" y="287" textLength="66.9" lengthAdjust="spacingAndGlyphs">(S-first)</text>
<text class="cap b" x="417.6" y="287" textLength="27.5" lengthAdjust="spacingAndGlyphs">(b)</text>
<text class="cap" x="454" y="287" textLength="62.2" lengthAdjust="spacingAndGlyphs">ZOIGD</text>
<text class="cap" x="525.6" y="287" textLength="71" lengthAdjust="spacingAndGlyphs">(V-first)</text>
<text class="cap b" x="0.9" y="636" textLength="25.4" lengthAdjust="spacingAndGlyphs">(c)</text>
<text class="cap" x="34.6" y="636" textLength="62.8" lengthAdjust="spacingAndGlyphs">ZOIGD</text>
<text class="cap" x="106.8" y="636" textLength="71" lengthAdjust="spacingAndGlyphs">(O-first)</text>
<text class="cap b" x="436.7" y="636" textLength="28.4" lengthAdjust="spacingAndGlyphs">(d)</text>
<text class="cap" x="473.4" y="636" textLength="28.6" lengthAdjust="spacingAndGlyphs">GD</text>
<text class="cap" x="511.2" y="636" textLength="66.3" lengthAdjust="spacingAndGlyphs">(S-first)</text>
<text class="cap b" x="18" y="983.8" textLength="24.6" lengthAdjust="spacingAndGlyphs">(e)</text>
<text class="cap" x="52.4" y="983.8" textLength="28.7" lengthAdjust="spacingAndGlyphs">GD</text>
<text class="cap" x="89.9" y="983.8" textLength="70.7" lengthAdjust="spacingAndGlyphs">(V-first)</text>
<text class="cap b" x="435.8" y="983.8" textLength="24.6" lengthAdjust="spacingAndGlyphs">(f)</text>
<text class="cap" x="469" y="983.8" textLength="29.2" lengthAdjust="spacingAndGlyphs">GD</text>
<text class="cap" x="506.8" y="983.8" textLength="70.7" lengthAdjust="spacingAndGlyphs">(O-first)</text>
</svg></body></html>
